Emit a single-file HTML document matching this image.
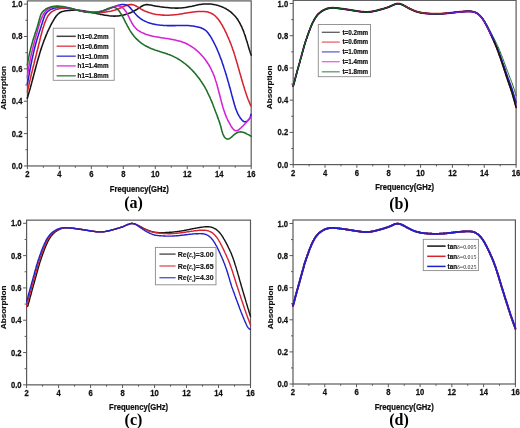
<!DOCTYPE html>
<html><head><meta charset="utf-8"><style>
html,body{margin:0;padding:0;background:#fff;width:520px;height:428px;overflow:hidden}
svg{display:block}
.tl{font-family:'Liberation Sans', Arial, Helvetica, sans-serif;font-weight:bold;font-size:8.6px;fill:#111;stroke:#111;stroke-width:0.25px}
.at{font-family:'Liberation Sans', Arial, Helvetica, sans-serif;font-weight:bold;font-size:8.5px;fill:#111;stroke:#111;stroke-width:0.25px}
.pl{font-family:'Liberation Serif', 'Times New Roman', serif;font-weight:bold;font-size:16px;fill:#000}
.lg{font-family:'Liberation Sans', Arial, Helvetica, sans-serif;font-weight:bold;font-size:6.3px;fill:#111;stroke:#111;stroke-width:0.18px}
.lg2{font-family:'Liberation Sans', Arial, Helvetica, sans-serif;font-weight:bold;font-size:7px;fill:#111;stroke:#111;stroke-width:0.12px}
.ab{font-family:'Liberation Sans', Arial, sans-serif;font-weight:bold;font-size:8.2px;fill:#111;stroke:#111;stroke-width:0.15px}
.lg3{font-family:'Liberation Serif', 'Times New Roman', serif;font-weight:normal;font-size:5.9px;fill:#222;stroke:none}
</style></head><body>
<svg width="520" height="428" viewBox="0 0 520 428">
<rect x="27.40" y="0.90" width="223.80" height="165.05" fill="none" stroke="#5a5a5a" stroke-width="1.2"/>
<line x1="23.90" y1="165.95" x2="27.40" y2="165.95" stroke="#5a5a5a" stroke-width="1"/>
<text transform="translate(22.40,168.95) scale(0.890,1)" class="tl" text-anchor="end">0.0</text>
<line x1="25.40" y1="149.76" x2="27.40" y2="149.76" stroke="#5a5a5a" stroke-width="1"/>
<line x1="23.90" y1="133.58" x2="27.40" y2="133.58" stroke="#5a5a5a" stroke-width="1"/>
<text transform="translate(22.40,136.58) scale(0.890,1)" class="tl" text-anchor="end">0.2</text>
<line x1="25.40" y1="117.39" x2="27.40" y2="117.39" stroke="#5a5a5a" stroke-width="1"/>
<line x1="23.90" y1="101.21" x2="27.40" y2="101.21" stroke="#5a5a5a" stroke-width="1"/>
<text transform="translate(22.40,104.21) scale(0.890,1)" class="tl" text-anchor="end">0.4</text>
<line x1="25.40" y1="85.02" x2="27.40" y2="85.02" stroke="#5a5a5a" stroke-width="1"/>
<line x1="23.90" y1="68.84" x2="27.40" y2="68.84" stroke="#5a5a5a" stroke-width="1"/>
<text transform="translate(22.40,71.84) scale(0.890,1)" class="tl" text-anchor="end">0.6</text>
<line x1="25.40" y1="52.66" x2="27.40" y2="52.66" stroke="#5a5a5a" stroke-width="1"/>
<line x1="23.90" y1="36.47" x2="27.40" y2="36.47" stroke="#5a5a5a" stroke-width="1"/>
<text transform="translate(22.40,39.47) scale(0.890,1)" class="tl" text-anchor="end">0.8</text>
<line x1="25.40" y1="20.28" x2="27.40" y2="20.28" stroke="#5a5a5a" stroke-width="1"/>
<line x1="23.90" y1="4.10" x2="27.40" y2="4.10" stroke="#5a5a5a" stroke-width="1"/>
<text transform="translate(22.40,7.10) scale(0.890,1)" class="tl" text-anchor="end">1.0</text>
<line x1="27.40" y1="165.95" x2="27.40" y2="169.15" stroke="#5a5a5a" stroke-width="1"/>
<text transform="translate(27.40,176.85) scale(0.890,1)" class="tl" text-anchor="middle">2</text>
<line x1="43.39" y1="165.95" x2="43.39" y2="167.75" stroke="#5a5a5a" stroke-width="1"/>
<line x1="59.37" y1="165.95" x2="59.37" y2="169.15" stroke="#5a5a5a" stroke-width="1"/>
<text transform="translate(59.37,176.85) scale(0.890,1)" class="tl" text-anchor="middle">4</text>
<line x1="75.36" y1="165.95" x2="75.36" y2="167.75" stroke="#5a5a5a" stroke-width="1"/>
<line x1="91.34" y1="165.95" x2="91.34" y2="169.15" stroke="#5a5a5a" stroke-width="1"/>
<text transform="translate(91.34,176.85) scale(0.890,1)" class="tl" text-anchor="middle">6</text>
<line x1="107.33" y1="165.95" x2="107.33" y2="167.75" stroke="#5a5a5a" stroke-width="1"/>
<line x1="123.31" y1="165.95" x2="123.31" y2="169.15" stroke="#5a5a5a" stroke-width="1"/>
<text transform="translate(123.31,176.85) scale(0.890,1)" class="tl" text-anchor="middle">8</text>
<line x1="139.30" y1="165.95" x2="139.30" y2="167.75" stroke="#5a5a5a" stroke-width="1"/>
<line x1="155.29" y1="165.95" x2="155.29" y2="169.15" stroke="#5a5a5a" stroke-width="1"/>
<text transform="translate(155.29,176.85) scale(0.890,1)" class="tl" text-anchor="middle">10</text>
<line x1="171.27" y1="165.95" x2="171.27" y2="167.75" stroke="#5a5a5a" stroke-width="1"/>
<line x1="187.26" y1="165.95" x2="187.26" y2="169.15" stroke="#5a5a5a" stroke-width="1"/>
<text transform="translate(187.26,176.85) scale(0.890,1)" class="tl" text-anchor="middle">12</text>
<line x1="203.24" y1="165.95" x2="203.24" y2="167.75" stroke="#5a5a5a" stroke-width="1"/>
<line x1="219.23" y1="165.95" x2="219.23" y2="169.15" stroke="#5a5a5a" stroke-width="1"/>
<text transform="translate(219.23,176.85) scale(0.890,1)" class="tl" text-anchor="middle">14</text>
<line x1="235.21" y1="165.95" x2="235.21" y2="167.75" stroke="#5a5a5a" stroke-width="1"/>
<line x1="251.20" y1="165.95" x2="251.20" y2="169.15" stroke="#5a5a5a" stroke-width="1"/>
<text transform="translate(251.20,176.85) scale(0.890,1)" class="tl" text-anchor="middle">16</text>
<text transform="translate(139.30,191.55) scale(0.900,1)" class="at" text-anchor="middle">Frequency(GHz)</text>
<text transform="translate(6.30,87.90) rotate(-90) scale(1,0.9)" class="ab" text-anchor="middle">Absorption</text>
<text x="133.50" y="207.80" class="pl" text-anchor="middle">(a)</text>
<path d="M27.3,98.2 27.6,97.2 27.9,96.2 28.2,95.1 28.5,94.1 28.8,93.1 29.1,92.1 29.4,91.1 29.7,90.1 30.0,89.1 30.3,88.0 30.5,87.0 30.8,86.0 31.1,85.0 31.4,83.9 31.7,82.9 31.9,81.9 32.2,80.9 32.5,79.8 32.8,78.8 33.0,77.8 33.3,76.7 33.6,75.7 33.8,74.7 34.1,73.6 34.4,72.6 34.7,71.6 34.9,70.6 35.2,69.5 35.5,68.5 35.7,67.5 36.0,66.4 36.3,65.4 36.6,64.4 36.9,63.4 37.1,62.3 37.4,61.3 37.7,60.3 38.0,59.2 38.3,58.2 38.6,57.2 38.9,56.2 39.2,55.2 39.5,54.1 39.8,53.1 40.1,52.1 40.4,51.1 40.7,50.1 41.1,49.1 41.4,48.1 41.7,47.0 42.1,46.0 42.4,45.0 42.8,44.0 43.1,43.0 43.5,42.0 43.8,41.0 44.2,40.0 44.6,39.1 45.0,38.1 45.4,37.1 45.8,36.1 46.2,35.1 46.6,34.1 47.0,33.2 47.4,32.2 47.9,31.2 48.3,30.3 48.8,29.3 49.2,28.3 49.7,27.4 50.2,26.4 50.6,25.5 51.1,24.5 51.6,23.6 52.1,22.7 52.7,21.7 53.2,20.8 53.7,19.9 54.3,18.9 54.8,18.0 55.4,17.2 56.0,16.3 56.7,15.5 57.4,14.7 58.1,14.0 58.9,13.3 59.7,12.7 60.6,12.2 61.5,11.8 62.5,11.4 63.5,11.2 64.6,10.9 65.7,10.8 66.8,10.7 67.9,10.5 69.0,10.5 70.1,10.4 71.2,10.3 72.3,10.3 73.3,10.2 74.4,10.2 75.4,10.2 76.5,10.2 77.5,10.2 78.6,10.3 79.6,10.3 80.7,10.4 81.7,10.5 82.7,10.7 83.8,10.8 84.8,11.0 85.9,11.2 86.9,11.4 88.0,11.6 89.1,11.8 90.1,12.0 91.2,12.2 92.2,12.5 93.3,12.7 94.3,12.9 95.4,13.2 96.4,13.4 97.5,13.7 98.6,13.9 99.6,14.1 100.7,14.4 101.7,14.6 102.8,14.8 103.8,15.0 104.9,15.2 106.0,15.3 107.0,15.5 108.1,15.6 109.1,15.8 110.2,15.9 111.2,16.0 112.3,16.0 113.3,16.1 114.3,16.1 115.4,16.1 116.4,16.0 117.5,16.0 118.5,15.9 119.5,15.7 120.6,15.6 121.6,15.4 122.6,15.2 123.6,15.0 124.6,14.7 125.6,14.4 126.6,14.1 127.6,13.8 128.6,13.4 129.6,13.1 130.6,12.7 131.5,12.2 132.5,11.8 133.5,11.3 134.4,10.8 135.3,10.3 136.3,9.7 137.2,9.2 138.1,8.6 139.0,8.0 139.9,7.4 140.8,6.8 141.7,6.3 142.6,5.8 143.6,5.3 144.5,5.0 145.5,4.8 146.5,4.6 147.5,4.6 148.5,4.7 149.6,4.9 150.7,5.1 151.8,5.3 152.8,5.6 153.9,5.8 155.0,6.0 156.0,6.2 157.1,6.3 158.2,6.5 159.2,6.6 160.3,6.8 161.3,6.9 162.4,7.0 163.4,7.2 164.5,7.3 165.6,7.4 166.6,7.5 167.7,7.6 168.7,7.7 169.8,7.8 170.8,7.9 171.9,7.9 173.0,8.0 174.0,8.0 175.1,8.1 176.1,8.1 177.2,8.1 178.3,8.1 179.3,8.0 180.4,8.0 181.4,7.9 182.5,7.8 183.6,7.7 184.6,7.6 185.7,7.4 186.7,7.2 187.8,7.0 188.9,6.8 189.9,6.6 191.0,6.4 192.0,6.2 193.1,5.9 194.1,5.7 195.2,5.5 196.2,5.2 197.3,5.0 198.4,4.8 199.4,4.6 200.5,4.5 201.5,4.3 202.6,4.2 203.7,4.1 204.7,4.0 205.8,3.9 206.8,3.9 207.9,3.9 209.0,3.9 210.0,4.0 211.1,4.1 212.1,4.2 213.2,4.4 214.2,4.5 215.2,4.8 216.3,5.0 217.3,5.3 218.3,5.5 219.3,5.9 220.3,6.2 221.3,6.6 222.3,7.0 223.2,7.4 224.2,7.9 225.1,8.3 226.0,8.8 226.9,9.4 227.8,9.9 228.7,10.5 229.5,11.1 230.4,11.7 231.2,12.4 232.0,13.1 232.7,13.8 233.5,14.5 234.2,15.3 234.9,16.0 235.6,16.8 236.2,17.6 236.9,18.5 237.5,19.3 238.1,20.2 238.6,21.1 239.2,22.0 239.7,23.0 240.2,23.9 240.7,24.9 241.2,25.8 241.7,26.8 242.1,27.8 242.5,28.8 243.0,29.8 243.4,30.9 243.8,31.9 244.1,32.9 244.5,34.0 244.9,35.0 245.2,36.1 245.6,37.1 245.9,38.2 246.2,39.2 246.5,40.2 246.9,41.3 247.2,42.3 247.5,43.4 247.8,44.4 248.1,45.4 248.4,46.5 248.7,47.5 249.0,48.5 249.3,49.5 249.6,50.4 249.9,51.4 250.2,52.4 250.5,53.3 250.9,54.2 251.2,55.1" fill="none" stroke="#141414" stroke-width="1.55" stroke-linejoin="round" stroke-linecap="round"/>
<path d="M27.4,92.0 27.6,90.9 27.9,89.7 28.1,88.6 28.4,87.4 28.6,86.3 28.9,85.1 29.1,84.0 29.4,82.8 29.6,81.7 29.9,80.5 30.2,79.4 30.4,78.2 30.7,77.1 31.0,75.9 31.3,74.8 31.5,73.6 31.8,72.5 32.1,71.3 32.4,70.2 32.6,69.1 32.9,67.9 33.2,66.8 33.5,65.6 33.8,64.5 34.1,63.4 34.3,62.2 34.6,61.1 34.9,59.9 35.2,58.8 35.5,57.7 35.8,56.5 36.1,55.4 36.4,54.2 36.6,53.1 36.9,52.0 37.2,50.8 37.5,49.7 37.8,48.5 38.1,47.4 38.4,46.3 38.6,45.1 38.9,44.0 39.2,42.8 39.5,41.7 39.8,40.5 40.0,39.4 40.3,38.3 40.6,37.1 40.9,36.0 41.2,34.8 41.5,33.7 41.8,32.5 42.1,31.4 42.4,30.3 42.7,29.1 43.0,28.0 43.4,26.9 43.8,25.7 44.1,24.6 44.5,23.5 45.0,22.4 45.4,21.2 45.9,20.1 46.3,19.0 46.9,17.9 47.4,16.9 48.0,15.8 48.7,14.9 49.4,14.0 50.2,13.1 51.0,12.4 51.9,11.7 52.9,11.1 53.8,10.5 54.9,10.1 55.9,9.6 57.0,9.3 58.1,8.9 59.3,8.7 60.4,8.5 61.6,8.3 62.8,8.3 64.0,8.2 65.2,8.2 66.4,8.3 67.6,8.4 68.7,8.5 69.9,8.7 71.1,8.8 72.3,9.1 73.4,9.3 74.6,9.5 75.7,9.8 76.9,10.1 78.1,10.3 79.2,10.6 80.4,10.8 81.6,11.0 82.7,11.3 83.9,11.5 85.0,11.6 86.2,11.8 87.4,12.0 88.5,12.1 89.7,12.2 90.9,12.3 92.0,12.4 93.2,12.5 94.4,12.6 95.5,12.6 96.7,12.6 97.9,12.6 99.0,12.6 100.2,12.6 101.4,12.5 102.5,12.4 103.7,12.3 104.8,12.2 106.0,12.0 107.1,11.8 108.3,11.6 109.5,11.4 110.6,11.2 111.8,10.9 112.9,10.6 114.0,10.3 115.2,9.9 116.3,9.5 117.5,9.1 118.6,8.7 119.7,8.2 120.9,7.7 122.0,7.2 123.1,6.7 124.2,6.2 125.3,5.8 126.4,5.4 127.5,5.0 128.6,4.8 129.7,4.6 130.8,4.6 131.9,4.6 132.9,4.8 134.0,5.1 135.0,5.5 136.1,6.0 137.1,6.6 138.1,7.2 139.1,7.9 140.1,8.5 141.1,9.1 142.2,9.7 143.2,10.2 144.2,10.7 145.3,11.2 146.3,11.6 147.4,12.0 148.5,12.4 149.6,12.8 150.7,13.1 151.8,13.4 152.9,13.7 154.0,13.9 155.2,14.2 156.4,14.4 157.5,14.6 158.7,14.7 159.9,14.8 161.1,15.0 162.2,15.1 163.4,15.1 164.6,15.2 165.8,15.2 167.0,15.2 168.2,15.2 169.4,15.2 170.6,15.1 171.8,15.0 173.0,14.9 174.2,14.8 175.4,14.7 176.6,14.6 177.7,14.4 178.9,14.3 180.0,14.1 181.2,13.9 182.4,13.7 183.5,13.5 184.7,13.3 185.8,13.1 187.0,12.9 188.1,12.7 189.3,12.5 190.4,12.4 191.6,12.2 192.7,12.0 193.9,11.9 195.0,11.8 196.2,11.7 197.4,11.6 198.6,11.5 199.7,11.4 200.9,11.4 202.1,11.4 203.3,11.4 204.5,11.5 205.7,11.7 206.8,11.8 208.0,12.1 209.1,12.4 210.1,12.8 211.2,13.2 212.1,13.8 213.1,14.3 214.0,15.0 214.9,15.7 215.7,16.5 216.6,17.3 217.3,18.2 218.1,19.1 218.8,20.0 219.5,21.0 220.2,22.0 220.9,23.1 221.5,24.1 222.2,25.2 222.8,26.3 223.3,27.3 223.9,28.4 224.5,29.5 225.0,30.6 225.5,31.7 226.1,32.8 226.6,33.9 227.1,34.9 227.5,36.0 228.0,37.1 228.5,38.1 228.9,39.2 229.4,40.3 229.8,41.4 230.2,42.4 230.7,43.5 231.1,44.6 231.5,45.7 231.9,46.8 232.3,47.8 232.6,48.9 233.0,50.0 233.4,51.1 233.8,52.2 234.1,53.3 234.5,54.4 234.8,55.5 235.2,56.6 235.5,57.8 235.8,58.9 236.2,60.0 236.5,61.1 236.8,62.3 237.2,63.4 237.5,64.5 237.8,65.7 238.1,66.8 238.5,67.9 238.8,69.1 239.1,70.2 239.4,71.4 239.7,72.5 240.1,73.7 240.4,74.8 240.7,75.9 241.0,77.1 241.4,78.2 241.7,79.4 242.0,80.5 242.3,81.6 242.7,82.8 243.0,83.9 243.4,85.1 243.7,86.2 244.1,87.3 244.4,88.4 244.8,89.6 245.1,90.7 245.5,91.8 245.9,92.9 246.2,94.0 246.6,95.2 247.0,96.3 247.4,97.4 247.8,98.5 248.2,99.5 248.7,100.6 249.1,101.7 249.5,102.8 250.0,103.9 250.4,104.9 250.9,106.0" fill="none" stroke="#d8222e" stroke-width="1.55" stroke-linejoin="round" stroke-linecap="round"/>
<path d="M27.3,84.0 27.5,82.8 27.8,81.7 28.0,80.5 28.2,79.4 28.4,78.2 28.6,77.0 28.8,75.9 29.1,74.7 29.3,73.5 29.5,72.4 29.7,71.2 29.9,70.0 30.2,68.8 30.4,67.7 30.6,66.5 30.8,65.3 31.1,64.1 31.3,63.0 31.6,61.8 31.8,60.6 32.0,59.4 32.3,58.3 32.5,57.1 32.8,55.9 33.1,54.7 33.3,53.6 33.6,52.4 33.9,51.2 34.1,50.1 34.4,48.9 34.7,47.8 35.0,46.6 35.3,45.5 35.6,44.3 35.9,43.2 36.2,42.0 36.6,40.9 36.9,39.8 37.2,38.6 37.6,37.5 37.9,36.4 38.3,35.3 38.6,34.1 39.0,33.0 39.3,31.9 39.7,30.8 40.1,29.7 40.4,28.5 40.8,27.4 41.2,26.3 41.5,25.1 41.9,24.0 42.3,22.8 42.7,21.6 43.0,20.5 43.4,19.3 43.8,18.1 44.2,16.9 44.6,15.8 45.2,14.7 45.8,13.8 46.5,12.8 47.2,12.0 48.1,11.2 49.0,10.6 50.0,9.9 51.0,9.4 52.1,8.9 53.2,8.5 54.4,8.1 55.5,7.9 56.7,7.6 57.9,7.5 59.1,7.3 60.3,7.3 61.5,7.3 62.7,7.3 63.9,7.4 65.1,7.5 66.3,7.7 67.4,7.9 68.6,8.1 69.8,8.4 70.9,8.6 72.1,8.9 73.3,9.2 74.4,9.5 75.6,9.8 76.8,10.1 77.9,10.3 79.1,10.6 80.3,10.9 81.4,11.1 82.6,11.3 83.8,11.5 85.0,11.7 86.2,11.9 87.3,12.0 88.5,12.1 89.7,12.2 90.9,12.3 92.0,12.3 93.2,12.3 94.4,12.3 95.5,12.2 96.7,12.1 97.9,12.0 99.0,11.8 100.2,11.6 101.3,11.4 102.4,11.1 103.6,10.8 104.7,10.4 105.8,10.0 106.9,9.6 108.1,9.1 109.2,8.7 110.3,8.2 111.4,7.7 112.6,7.3 113.7,6.8 114.8,6.4 116.0,5.9 117.1,5.6 118.3,5.2 119.5,4.9 120.6,4.7 121.8,4.5 123.0,4.5 124.1,4.5 125.2,4.7 126.3,5.0 127.3,5.4 128.3,6.0 129.1,6.7 130.0,7.6 130.8,8.4 131.6,9.4 132.4,10.3 133.2,11.3 134.0,12.2 134.8,13.2 135.6,14.1 136.4,15.0 137.3,15.9 138.1,16.7 139.0,17.4 140.0,18.2 140.9,18.8 141.9,19.5 142.9,20.1 143.9,20.6 144.9,21.2 146.0,21.6 147.1,22.1 148.1,22.5 149.3,22.9 150.4,23.3 151.5,23.6 152.6,23.9 153.8,24.1 155.0,24.4 156.1,24.6 157.3,24.8 158.5,24.9 159.7,25.1 160.9,25.2 162.1,25.3 163.3,25.4 164.6,25.5 165.8,25.5 167.0,25.6 168.2,25.6 169.4,25.6 170.7,25.6 171.9,25.6 173.1,25.6 174.3,25.6 175.5,25.6 176.7,25.5 177.9,25.5 179.1,25.5 180.2,25.5 181.4,25.5 182.6,25.4 183.8,25.4 184.9,25.5 186.1,25.5 187.3,25.5 188.4,25.6 189.6,25.7 190.7,25.8 191.9,25.9 193.1,26.0 194.2,26.2 195.4,26.4 196.6,26.7 197.7,27.0 198.9,27.3 200.1,27.6 201.3,28.0 202.4,28.5 203.5,29.0 204.5,29.6 205.5,30.3 206.4,31.0 207.2,31.9 207.9,32.8 208.6,33.7 209.3,34.7 210.0,35.7 210.6,36.7 211.2,37.7 211.8,38.7 212.4,39.8 213.0,40.8 213.5,41.9 214.1,42.9 214.6,44.0 215.2,45.1 215.7,46.2 216.2,47.3 216.7,48.4 217.2,49.5 217.6,50.6 218.1,51.7 218.6,52.8 219.0,53.9 219.5,55.0 219.9,56.2 220.3,57.3 220.7,58.4 221.2,59.5 221.6,60.6 222.0,61.8 222.3,62.9 222.7,64.0 223.1,65.1 223.5,66.2 223.8,67.3 224.2,68.5 224.6,69.6 224.9,70.7 225.3,71.8 225.6,72.9 226.0,74.0 226.3,75.2 226.6,76.3 227.0,77.4 227.3,78.5 227.6,79.7 227.9,80.8 228.3,81.9 228.6,83.1 228.9,84.2 229.2,85.3 229.5,86.5 229.8,87.6 230.2,88.8 230.5,89.9 230.8,91.1 231.1,92.3 231.4,93.4 231.7,94.6 232.0,95.8 232.4,97.0 232.7,98.2 233.0,99.4 233.3,100.6 233.7,101.8 234.0,103.0 234.3,104.2 234.7,105.3 235.1,106.5 235.4,107.7 235.8,108.9 236.3,110.0 236.7,111.1 237.2,112.2 237.6,113.3 238.2,114.4 238.7,115.4 239.3,116.4 239.9,117.3 240.5,118.3 241.2,119.1 241.9,120.0 242.7,120.7 243.5,121.4 244.3,121.8 245.2,121.8 246.1,121.6 247.1,121.2 248.0,120.5 248.8,119.6 249.6,118.5 250.2,117.2 250.7,115.9 251.0,114.4" fill="none" stroke="#2020cc" stroke-width="1.55" stroke-linejoin="round" stroke-linecap="round"/>
<path d="M27.3,77.5 27.5,76.3 27.6,75.1 27.7,74.0 27.9,72.8 28.1,71.6 28.2,70.4 28.4,69.3 28.6,68.1 28.8,67.0 29.0,65.8 29.2,64.6 29.4,63.5 29.6,62.3 29.9,61.2 30.1,60.0 30.3,58.9 30.6,57.7 30.8,56.6 31.1,55.4 31.4,54.3 31.6,53.1 31.9,52.0 32.2,50.8 32.5,49.7 32.7,48.5 33.0,47.4 33.3,46.2 33.6,45.1 33.9,44.0 34.2,42.8 34.5,41.7 34.8,40.5 35.1,39.4 35.4,38.3 35.7,37.1 36.0,36.0 36.4,34.8 36.7,33.7 37.0,32.6 37.3,31.4 37.6,30.3 37.9,29.1 38.2,28.0 38.6,26.9 38.9,25.7 39.2,24.6 39.6,23.5 40.0,22.3 40.4,21.2 40.8,20.1 41.2,19.0 41.7,17.9 42.2,16.8 42.7,15.8 43.2,14.7 43.8,13.7 44.5,12.7 45.2,11.8 45.9,10.9 46.8,10.1 47.6,9.4 48.6,8.8 49.6,8.3 50.7,7.9 51.8,7.5 52.9,7.3 54.1,7.1 55.2,6.9 56.5,6.8 57.7,6.8 58.9,6.8 60.1,6.9 61.3,6.9 62.5,7.1 63.7,7.2 64.9,7.4 66.1,7.6 67.3,7.8 68.5,8.0 69.6,8.3 70.8,8.6 72.0,8.8 73.1,9.1 74.3,9.4 75.4,9.7 76.6,10.0 77.7,10.3 78.9,10.5 80.0,10.8 81.1,11.1 82.3,11.3 83.4,11.5 84.6,11.7 85.7,11.9 86.8,12.1 88.0,12.2 89.1,12.3 90.3,12.3 91.4,12.4 92.6,12.4 93.7,12.3 94.9,12.2 96.0,12.1 97.2,12.0 98.3,11.8 99.5,11.6 100.6,11.4 101.8,11.1 102.9,10.8 104.1,10.5 105.2,10.1 106.4,9.7 107.5,9.3 108.7,8.9 109.8,8.4 111.0,7.9 112.1,7.4 113.3,7.0 114.4,6.6 115.5,6.2 116.6,6.0 117.7,6.0 118.8,6.0 119.9,6.3 120.9,6.8 121.9,7.3 122.8,8.0 123.6,8.7 124.4,9.6 125.1,10.5 125.8,11.4 126.5,12.4 127.1,13.4 127.6,14.5 128.2,15.6 128.7,16.7 129.3,17.8 129.8,18.9 130.3,20.1 130.9,21.1 131.5,22.2 132.0,23.3 132.7,24.3 133.3,25.3 134.0,26.2 134.7,27.1 135.5,28.0 136.3,28.8 137.1,29.6 138.0,30.3 139.0,30.9 140.0,31.5 141.0,32.1 142.1,32.6 143.1,33.1 144.2,33.5 145.3,34.0 146.4,34.4 147.5,34.7 148.6,35.1 149.7,35.4 150.9,35.7 152.0,36.0 153.2,36.2 154.3,36.5 155.5,36.7 156.7,36.9 157.9,37.1 159.0,37.3 160.2,37.5 161.4,37.7 162.6,37.9 163.8,38.1 165.0,38.3 166.1,38.4 167.3,38.6 168.5,38.8 169.7,39.0 170.9,39.2 172.0,39.4 173.2,39.6 174.4,39.9 175.5,40.1 176.7,40.4 177.8,40.7 178.9,41.0 180.1,41.3 181.2,41.6 182.3,42.0 183.4,42.4 184.4,42.8 185.5,43.3 186.6,43.8 187.6,44.3 188.6,44.8 189.6,45.4 190.6,46.0 191.6,46.6 192.6,47.3 193.5,47.9 194.5,48.6 195.4,49.3 196.3,50.1 197.2,50.9 198.1,51.6 199.0,52.4 199.8,53.3 200.6,54.1 201.4,55.0 202.2,55.9 203.0,56.8 203.8,57.7 204.5,58.6 205.2,59.5 205.9,60.5 206.6,61.5 207.3,62.5 207.9,63.5 208.6,64.5 209.2,65.5 209.8,66.5 210.3,67.6 210.9,68.6 211.4,69.7 211.9,70.8 212.4,71.8 212.9,72.9 213.3,74.0 213.8,75.1 214.2,76.2 214.6,77.3 215.0,78.4 215.3,79.5 215.7,80.7 216.1,81.8 216.4,82.9 216.8,84.0 217.1,85.2 217.4,86.3 217.7,87.5 218.0,88.6 218.3,89.8 218.6,90.9 218.9,92.0 219.2,93.2 219.5,94.3 219.8,95.5 220.1,96.6 220.4,97.8 220.7,98.9 221.0,100.1 221.3,101.2 221.6,102.4 221.9,103.5 222.2,104.7 222.5,105.8 222.8,106.9 223.2,108.0 223.5,109.2 223.9,110.3 224.3,111.4 224.7,112.5 225.0,113.6 225.5,114.7 225.9,115.8 226.3,116.9 226.8,118.0 227.3,119.0 227.8,120.1 228.3,121.1 228.8,122.2 229.4,123.2 230.0,124.2 230.6,125.3 231.2,126.3 231.8,127.3 232.5,128.2 233.2,129.1 234.0,129.9 234.8,130.5 235.7,130.8 236.6,130.8 237.6,130.5 238.6,129.8 239.7,129.0 240.7,128.1 241.6,127.2 242.6,126.3 243.4,125.4 244.3,124.6 245.1,123.7 245.9,122.8 246.7,121.9 247.4,121.0 248.2,120.1 248.9,119.2 249.7,118.4 250.4,117.5 251.2,116.7" fill="none" stroke="#d622d6" stroke-width="1.55" stroke-linejoin="round" stroke-linecap="round"/>
<path d="M27.3,65.0 27.5,63.9 27.7,62.8 27.9,61.7 28.1,60.6 28.3,59.5 28.5,58.3 28.7,57.2 29.0,56.1 29.2,55.0 29.5,53.8 29.7,52.7 30.0,51.6 30.3,50.5 30.5,49.4 30.8,48.2 31.1,47.1 31.4,46.0 31.7,44.9 32.0,43.8 32.3,42.7 32.6,41.6 32.9,40.5 33.2,39.4 33.6,38.4 33.9,37.3 34.2,36.3 34.6,35.2 34.9,34.1 35.3,33.1 35.6,32.0 36.0,31.0 36.3,29.9 36.6,28.8 37.0,27.8 37.3,26.7 37.7,25.6 38.0,24.5 38.3,23.4 38.6,22.2 38.9,21.1 39.2,19.9 39.5,18.7 39.9,17.5 40.2,16.4 40.6,15.3 41.1,14.2 41.6,13.2 42.3,12.3 43.0,11.5 43.7,10.7 44.6,10.0 45.5,9.3 46.4,8.8 47.4,8.2 48.4,7.8 49.4,7.4 50.5,7.0 51.6,6.7 52.7,6.5 53.8,6.3 55.0,6.2 56.1,6.1 57.2,6.1 58.3,6.1 59.4,6.2 60.6,6.3 61.7,6.4 62.8,6.5 64.0,6.7 65.1,7.0 66.2,7.2 67.4,7.4 68.5,7.7 69.6,8.0 70.7,8.3 71.9,8.6 73.0,8.9 74.1,9.3 75.3,9.6 76.4,9.9 77.5,10.2 78.6,10.5 79.7,10.8 80.8,11.0 82.0,11.3 83.1,11.5 84.2,11.8 85.3,12.0 86.4,12.1 87.5,12.3 88.6,12.4 89.7,12.5 90.8,12.5 91.9,12.6 93.0,12.6 94.1,12.5 95.2,12.4 96.3,12.3 97.4,12.2 98.6,12.0 99.7,11.7 100.8,11.4 101.9,11.1 103.1,10.7 104.2,10.2 105.3,9.7 106.5,9.3 107.6,8.8 108.7,8.3 109.8,8.0 110.8,7.6 111.9,7.4 112.9,7.3 113.9,7.3 114.8,7.5 115.7,7.9 116.6,8.4 117.4,9.1 118.1,9.9 118.9,10.8 119.6,11.7 120.2,12.7 120.9,13.7 121.5,14.7 122.1,15.7 122.6,16.7 123.2,17.7 123.7,18.7 124.2,19.7 124.8,20.8 125.3,21.8 125.8,22.8 126.4,23.8 126.9,24.9 127.4,25.9 128.0,26.9 128.5,27.9 129.1,28.9 129.6,29.9 130.2,30.9 130.8,31.8 131.5,32.8 132.1,33.7 132.8,34.6 133.5,35.5 134.2,36.4 134.9,37.2 135.7,38.1 136.5,38.9 137.3,39.7 138.1,40.4 138.9,41.2 139.8,41.9 140.7,42.6 141.6,43.3 142.5,43.9 143.4,44.6 144.4,45.2 145.4,45.8 146.4,46.3 147.4,46.8 148.4,47.3 149.4,47.8 150.5,48.3 151.5,48.7 152.6,49.1 153.7,49.5 154.7,49.9 155.8,50.3 156.9,50.6 158.0,51.0 159.1,51.3 160.3,51.7 161.4,52.0 162.5,52.4 163.6,52.7 164.7,53.1 165.8,53.4 166.9,53.8 167.9,54.2 169.0,54.6 170.1,55.0 171.1,55.4 172.2,55.9 173.2,56.4 174.2,56.9 175.2,57.4 176.2,57.9 177.2,58.4 178.2,59.0 179.2,59.6 180.1,60.2 181.1,60.8 182.0,61.5 182.9,62.1 183.8,62.8 184.7,63.5 185.6,64.2 186.4,64.9 187.3,65.6 188.2,66.3 189.0,67.1 189.8,67.9 190.6,68.7 191.4,69.5 192.2,70.3 193.0,71.1 193.8,71.9 194.5,72.8 195.3,73.6 196.0,74.5 196.7,75.4 197.4,76.3 198.1,77.2 198.8,78.1 199.5,79.0 200.2,79.9 200.8,80.9 201.5,81.8 202.1,82.8 202.7,83.8 203.3,84.7 203.9,85.7 204.5,86.7 205.1,87.7 205.6,88.7 206.2,89.7 206.7,90.7 207.2,91.7 207.7,92.8 208.2,93.8 208.7,94.8 209.2,95.9 209.7,96.9 210.2,98.0 210.6,99.0 211.1,100.1 211.5,101.1 211.9,102.2 212.4,103.2 212.8,104.3 213.2,105.3 213.6,106.4 214.0,107.5 214.4,108.5 214.8,109.6 215.2,110.6 215.6,111.7 216.0,112.7 216.4,113.8 216.8,114.8 217.2,115.8 217.5,116.9 217.9,117.9 218.3,118.9 218.7,120.0 219.1,121.0 219.4,122.1 219.8,123.1 220.1,124.2 220.5,125.4 220.8,126.5 221.1,127.7 221.4,128.9 221.7,130.2 222.1,131.4 222.4,132.6 222.8,133.8 223.3,134.9 223.8,136.0 224.4,136.9 225.1,137.7 225.8,138.4 226.6,138.8 227.4,139.1 228.3,139.0 229.1,138.7 230.0,138.2 230.9,137.6 231.8,136.8 232.7,136.0 233.6,135.2 234.6,134.4 235.5,133.6 236.5,133.0 237.5,132.5 238.5,132.1 239.6,131.9 240.6,131.8 241.7,131.9 242.8,132.2 243.9,132.5 245.0,133.0 246.1,133.5 247.2,134.1 248.3,134.6 249.3,135.2 250.3,135.8 251.2,136.2" fill="none" stroke="#1d6e26" stroke-width="1.55" stroke-linejoin="round" stroke-linecap="round"/>
<rect x="53.2" y="28.2" width="61" height="52.1" fill="#fff" stroke="#8a8a8a" stroke-width="0.9"/>
<line x1="56.6" y1="36.30" x2="75.8" y2="36.30" stroke="#141414" stroke-width="1.5" stroke-opacity="0.8"/>
<text x="77.6" y="38.60" class="lg">h1=0.2mm</text>
<line x1="56.6" y1="46.20" x2="75.8" y2="46.20" stroke="#d8222e" stroke-width="1.5" stroke-opacity="0.8"/>
<text x="77.6" y="48.50" class="lg">h1=0.6mm</text>
<line x1="56.6" y1="56.20" x2="75.8" y2="56.20" stroke="#2020cc" stroke-width="1.5" stroke-opacity="0.8"/>
<text x="77.6" y="58.50" class="lg">h1=1.0mm</text>
<line x1="56.6" y1="65.90" x2="75.8" y2="65.90" stroke="#d622d6" stroke-width="1.5" stroke-opacity="0.8"/>
<text x="77.6" y="68.20" class="lg">h1=1.4mm</text>
<line x1="56.6" y1="75.80" x2="75.8" y2="75.80" stroke="#1d6e26" stroke-width="1.5" stroke-opacity="0.8"/>
<text x="77.6" y="78.10" class="lg">h1=1.8mm</text>
<rect x="293.20" y="0.35" width="222.90" height="164.25" fill="none" stroke="#5a5a5a" stroke-width="1.2"/>
<line x1="289.70" y1="164.60" x2="293.20" y2="164.60" stroke="#5a5a5a" stroke-width="1"/>
<text transform="translate(288.20,167.60) scale(0.890,1)" class="tl" text-anchor="end">0.0</text>
<line x1="291.20" y1="148.49" x2="293.20" y2="148.49" stroke="#5a5a5a" stroke-width="1"/>
<line x1="289.70" y1="132.38" x2="293.20" y2="132.38" stroke="#5a5a5a" stroke-width="1"/>
<text transform="translate(288.20,135.38) scale(0.890,1)" class="tl" text-anchor="end">0.2</text>
<line x1="291.20" y1="116.27" x2="293.20" y2="116.27" stroke="#5a5a5a" stroke-width="1"/>
<line x1="289.70" y1="100.16" x2="293.20" y2="100.16" stroke="#5a5a5a" stroke-width="1"/>
<text transform="translate(288.20,103.16) scale(0.890,1)" class="tl" text-anchor="end">0.4</text>
<line x1="291.20" y1="84.05" x2="293.20" y2="84.05" stroke="#5a5a5a" stroke-width="1"/>
<line x1="289.70" y1="67.94" x2="293.20" y2="67.94" stroke="#5a5a5a" stroke-width="1"/>
<text transform="translate(288.20,70.94) scale(0.890,1)" class="tl" text-anchor="end">0.6</text>
<line x1="291.20" y1="51.83" x2="293.20" y2="51.83" stroke="#5a5a5a" stroke-width="1"/>
<line x1="289.70" y1="35.72" x2="293.20" y2="35.72" stroke="#5a5a5a" stroke-width="1"/>
<text transform="translate(288.20,38.72) scale(0.890,1)" class="tl" text-anchor="end">0.8</text>
<line x1="291.20" y1="19.61" x2="293.20" y2="19.61" stroke="#5a5a5a" stroke-width="1"/>
<line x1="289.70" y1="3.50" x2="293.20" y2="3.50" stroke="#5a5a5a" stroke-width="1"/>
<text transform="translate(288.20,6.50) scale(0.890,1)" class="tl" text-anchor="end">1.0</text>
<line x1="293.20" y1="164.60" x2="293.20" y2="167.80" stroke="#5a5a5a" stroke-width="1"/>
<text transform="translate(293.20,175.50) scale(0.890,1)" class="tl" text-anchor="middle">2</text>
<line x1="309.12" y1="164.60" x2="309.12" y2="166.40" stroke="#5a5a5a" stroke-width="1"/>
<line x1="325.04" y1="164.60" x2="325.04" y2="167.80" stroke="#5a5a5a" stroke-width="1"/>
<text transform="translate(325.04,175.50) scale(0.890,1)" class="tl" text-anchor="middle">4</text>
<line x1="340.96" y1="164.60" x2="340.96" y2="166.40" stroke="#5a5a5a" stroke-width="1"/>
<line x1="356.89" y1="164.60" x2="356.89" y2="167.80" stroke="#5a5a5a" stroke-width="1"/>
<text transform="translate(356.89,175.50) scale(0.890,1)" class="tl" text-anchor="middle">6</text>
<line x1="372.81" y1="164.60" x2="372.81" y2="166.40" stroke="#5a5a5a" stroke-width="1"/>
<line x1="388.73" y1="164.60" x2="388.73" y2="167.80" stroke="#5a5a5a" stroke-width="1"/>
<text transform="translate(388.73,175.50) scale(0.890,1)" class="tl" text-anchor="middle">8</text>
<line x1="404.65" y1="164.60" x2="404.65" y2="166.40" stroke="#5a5a5a" stroke-width="1"/>
<line x1="420.57" y1="164.60" x2="420.57" y2="167.80" stroke="#5a5a5a" stroke-width="1"/>
<text transform="translate(420.57,175.50) scale(0.890,1)" class="tl" text-anchor="middle">10</text>
<line x1="436.49" y1="164.60" x2="436.49" y2="166.40" stroke="#5a5a5a" stroke-width="1"/>
<line x1="452.41" y1="164.60" x2="452.41" y2="167.80" stroke="#5a5a5a" stroke-width="1"/>
<text transform="translate(452.41,175.50) scale(0.890,1)" class="tl" text-anchor="middle">12</text>
<line x1="468.34" y1="164.60" x2="468.34" y2="166.40" stroke="#5a5a5a" stroke-width="1"/>
<line x1="484.26" y1="164.60" x2="484.26" y2="167.80" stroke="#5a5a5a" stroke-width="1"/>
<text transform="translate(484.26,175.50) scale(0.890,1)" class="tl" text-anchor="middle">14</text>
<line x1="500.18" y1="164.60" x2="500.18" y2="166.40" stroke="#5a5a5a" stroke-width="1"/>
<line x1="516.10" y1="164.60" x2="516.10" y2="167.80" stroke="#5a5a5a" stroke-width="1"/>
<text transform="translate(516.10,175.50) scale(0.890,1)" class="tl" text-anchor="middle">16</text>
<text transform="translate(404.65,190.20) scale(0.900,1)" class="at" text-anchor="middle">Frequency(GHz)</text>
<text transform="translate(272.40,87.30) rotate(-90) scale(1,0.9)" class="ab" text-anchor="middle">Absorption</text>
<text x="399.00" y="208.50" class="pl" text-anchor="middle">(b)</text>
<path d="M293.2,85.8 293.7,83.8 294.3,81.8 294.8,79.9 295.3,77.9 295.9,75.9 296.4,74.0 296.9,72.0 297.4,70.1 298.0,68.1 298.5,66.2 299.0,64.3 299.6,62.4 300.1,60.5 300.6,58.6 301.2,56.7 301.7,54.7 302.2,52.8 302.8,50.8 303.3,48.9 303.8,47.0 304.3,45.2 304.9,43.4 305.4,41.7 305.9,40.0 306.5,38.4 307.0,36.9 307.5,35.4 308.1,33.9 308.6,32.4 309.1,31.0 309.7,29.6 310.2,28.2 310.7,26.9 311.2,25.6 311.8,24.4 312.3,23.2 312.8,22.1 313.4,21.0 313.9,20.0 314.4,19.0 315.0,18.1 315.5,17.3 316.0,16.5 316.6,15.8 317.1,15.1 317.6,14.5 318.1,13.9 318.7,13.4 319.2,12.9 319.7,12.4 320.3,12.0 320.8,11.6 321.3,11.2 321.9,10.9 322.4,10.5 322.9,10.2 323.5,9.9 324.0,9.6 324.5,9.4 325.0,9.1 325.6,8.9 326.1,8.7 326.6,8.5 327.2,8.3 327.7,8.2 328.2,8.1 328.8,8.0 329.3,7.9 329.8,7.8 330.4,7.7 330.9,7.7 331.4,7.7 331.9,7.6 332.5,7.6 333.0,7.6 333.5,7.6 334.1,7.7 334.6,7.7 335.1,7.7 335.7,7.8 336.2,7.8 336.7,7.8 337.2,7.9 337.8,7.9 338.3,8.0 338.8,8.1 339.4,8.1 339.9,8.2 340.4,8.3 341.0,8.3 341.5,8.4 342.0,8.5 342.6,8.5 343.1,8.6 343.6,8.7 344.1,8.8 344.7,8.8 345.2,8.9 345.7,9.0 346.3,9.1 346.8,9.2 347.3,9.2 347.9,9.3 348.4,9.4 348.9,9.5 349.5,9.6 350.0,9.7 350.5,9.7 351.0,9.8 351.6,9.9 352.1,10.0 352.6,10.1 353.2,10.2 353.7,10.2 354.2,10.3 354.8,10.4 355.3,10.5 355.8,10.6 356.4,10.7 356.9,10.7 357.4,10.8 357.9,10.9 358.5,11.0 359.0,11.1 359.5,11.2 360.1,11.2 360.6,11.3 361.1,11.4 361.7,11.4 362.2,11.5 362.7,11.6 363.3,11.6 363.8,11.6 364.3,11.7 364.8,11.7 365.4,11.7 365.9,11.7 366.4,11.8 367.0,11.7 367.5,11.7 368.0,11.7 368.6,11.7 369.1,11.6 369.6,11.6 370.2,11.5 370.7,11.5 371.2,11.4 371.7,11.3 372.3,11.2 372.8,11.1 373.3,11.0 373.9,10.9 374.4,10.8 374.9,10.7 375.5,10.5 376.0,10.4 376.5,10.3 377.1,10.1 377.6,10.0 378.1,9.9 378.6,9.7 379.2,9.6 379.7,9.4 380.2,9.3 380.8,9.2 381.3,9.0 381.8,8.9 382.4,8.7 382.9,8.6 383.4,8.4 384.0,8.3 384.5,8.1 385.0,7.9 385.5,7.8 386.1,7.6 386.6,7.4 387.1,7.2 387.7,7.0 388.2,6.8 388.7,6.6 389.3,6.4 389.8,6.2 390.3,6.0 390.9,5.8 391.4,5.5 391.9,5.3 392.4,5.1 393.0,4.8 393.5,4.6 394.0,4.3 394.6,4.1 395.1,3.9 395.6,3.8 396.2,3.6 396.7,3.5 397.2,3.4 397.8,3.3 398.3,3.3 398.8,3.4 399.3,3.5 399.9,3.6 400.4,3.7 400.9,3.9 401.5,4.1 402.0,4.3 402.5,4.5 403.1,4.8 403.6,5.1 404.1,5.3 404.6,5.6 405.2,5.9 405.7,6.2 406.2,6.5 406.8,6.8 407.3,7.1 407.8,7.4 408.4,7.6 408.9,7.9 409.4,8.2 410.0,8.5 410.5,8.7 411.0,9.0 411.5,9.3 412.1,9.5 412.6,9.7 413.1,10.0 413.7,10.2 414.2,10.4 414.7,10.6 415.3,10.8 415.8,11.0 416.3,11.2 416.9,11.4 417.4,11.5 417.9,11.7 418.4,11.8 419.0,12.0 419.5,12.1 420.0,12.2 420.6,12.3 421.1,12.4 421.6,12.5 422.2,12.6 422.7,12.7 423.2,12.8 423.8,12.8 424.3,12.9 424.8,13.0 425.3,13.0 425.9,13.1 426.4,13.1 426.9,13.2 427.5,13.2 428.0,13.2 428.5,13.3 429.1,13.3 429.6,13.3 430.1,13.4 430.7,13.4 431.2,13.4 431.7,13.4 432.2,13.5 432.8,13.5 433.3,13.5 433.8,13.5 434.4,13.5 434.9,13.5 435.4,13.5 436.0,13.5 436.5,13.5 437.0,13.5 437.6,13.5 438.1,13.5 438.6,13.5 439.1,13.5 439.7,13.5 440.2,13.5 440.7,13.4 441.3,13.4 441.8,13.4 442.3,13.4 442.9,13.3 443.4,13.3 443.9,13.3 444.5,13.2 445.0,13.2 445.5,13.1 446.0,13.1 446.6,13.0 447.1,13.0 447.6,12.9 448.2,12.9 448.7,12.8 449.2,12.8 449.8,12.7 450.3,12.6 450.8,12.6 451.4,12.5 451.9,12.5 452.4,12.4 452.9,12.3 453.5,12.3 454.0,12.2 454.5,12.1 455.1,12.1 455.6,12.0 456.1,12.0 456.7,11.9 457.2,11.8 457.7,11.8 458.3,11.7 458.8,11.7 459.3,11.6 459.8,11.6 460.4,11.5 460.9,11.5 461.4,11.4 462.0,11.4 462.5,11.3 463.0,11.3 463.6,11.3 464.1,11.2 464.6,11.2 465.2,11.2 465.7,11.1 466.2,11.1 466.7,11.1 467.3,11.1 467.8,11.1 468.3,11.1 468.9,11.1 469.4,11.1 469.9,11.1 470.5,11.1 471.0,11.2 471.5,11.2 472.1,11.3 472.6,11.4 473.1,11.5 473.6,11.6 474.2,11.7 474.7,11.9 475.2,12.1 475.8,12.3 476.3,12.6 476.8,12.9 477.4,13.2 477.9,13.6 478.4,14.0 479.0,14.5 479.5,15.0 480.0,15.5 480.5,16.1 481.1,16.7 481.6,17.3 482.1,18.0 482.7,18.8 483.2,19.6 483.7,20.4 484.3,21.3 484.8,22.2 485.3,23.2 485.8,24.1 486.4,25.2 486.9,26.2 487.4,27.3 488.0,28.3 488.5,29.4 489.0,30.5 489.6,31.6 490.1,32.7 490.6,33.9 491.2,35.0 491.7,36.1 492.2,37.2 492.7,38.4 493.3,39.6 493.8,40.8 494.3,42.1 494.9,43.3 495.4,44.6 495.9,45.9 496.5,47.2 497.0,48.6 497.5,49.9 498.1,51.3 498.6,52.8 499.1,54.2 499.6,55.7 500.2,57.2 500.7,58.7 501.2,60.3 501.8,61.9 502.3,63.4 502.8,65.0 503.4,66.7 503.9,68.3 504.4,69.9 505.0,71.5 505.5,73.1 506.0,74.7 506.5,76.3 507.1,77.8 507.6,79.4 508.1,81.0 508.7,82.5 509.2,84.0 509.7,85.6 510.3,87.1 510.8,88.7 511.3,90.3 511.9,91.9 512.4,93.6 512.9,95.4 513.4,97.2 514.0,99.1 514.5,101.0 515.0,103.0 515.6,105.0 516.1,106.9" fill="none" stroke="#d8222e" stroke-width="1.50" stroke-linejoin="round" stroke-linecap="round"/>
<path d="M293.2,86.5 293.7,84.5 294.3,82.5 294.8,80.5 295.3,78.5 295.9,76.6 296.4,74.6 296.9,72.6 297.4,70.7 298.0,68.8 298.5,66.9 299.0,65.0 299.6,63.1 300.1,61.2 300.6,59.2 301.2,57.3 301.7,55.4 302.2,53.4 302.8,51.5 303.3,49.5 303.8,47.7 304.3,45.8 304.9,44.0 305.4,42.3 305.9,40.7 306.5,39.1 307.0,37.5 307.5,36.0 308.1,34.5 308.6,33.1 309.1,31.6 309.7,30.2 310.2,28.9 310.7,27.5 311.2,26.2 311.8,25.0 312.3,23.8 312.8,22.7 313.4,21.6 313.9,20.6 314.4,19.7 315.0,18.8 315.5,18.0 316.0,17.2 316.6,16.5 317.1,15.8 317.6,15.1 318.1,14.6 318.7,14.0 319.2,13.5 319.7,13.1 320.3,12.6 320.8,12.2 321.3,11.9 321.9,11.5 322.4,11.2 322.9,10.8 323.5,10.5 324.0,10.3 324.5,10.0 325.0,9.8 325.6,9.5 326.1,9.3 326.6,9.1 327.2,9.0 327.7,8.8 328.2,8.7 328.8,8.6 329.3,8.5 329.8,8.4 330.4,8.4 330.9,8.3 331.4,8.3 331.9,8.3 332.5,8.3 333.0,8.3 333.5,8.3 334.1,8.3 334.6,8.3 335.1,8.4 335.7,8.4 336.2,8.4 336.7,8.5 337.2,8.5 337.8,8.6 338.3,8.7 338.8,8.7 339.4,8.8 339.9,8.8 340.4,8.9 341.0,9.0 341.5,9.0 342.0,9.1 342.6,9.2 343.1,9.3 343.6,9.3 344.1,9.4 344.7,9.5 345.2,9.6 345.7,9.6 346.3,9.7 346.8,9.8 347.3,9.9 347.9,10.0 348.4,10.0 348.9,10.1 349.5,10.2 350.0,10.3 350.5,10.4 351.0,10.5 351.6,10.5 352.1,10.6 352.6,10.7 353.2,10.8 353.7,10.9 354.2,11.0 354.8,11.1 355.3,11.1 355.8,11.2 356.4,11.3 356.9,11.4 357.4,11.5 357.9,11.6 358.5,11.6 359.0,11.7 359.5,11.8 360.1,11.9 360.6,11.9 361.1,12.0 361.7,12.1 362.2,12.1 362.7,12.2 363.3,12.2 363.8,12.3 364.3,12.3 364.8,12.4 365.4,12.4 365.9,12.4 366.4,12.4 367.0,12.4 367.5,12.4 368.0,12.4 368.6,12.3 369.1,12.3 369.6,12.2 370.2,12.2 370.7,12.1 371.2,12.0 371.7,11.9 372.3,11.9 372.8,11.8 373.3,11.7 373.9,11.5 374.4,11.4 374.9,11.3 375.5,11.2 376.0,11.1 376.5,10.9 377.1,10.8 377.6,10.7 378.1,10.5 378.6,10.4 379.2,10.2 379.7,10.1 380.2,9.9 380.8,9.8 381.3,9.7 381.8,9.5 382.4,9.4 382.9,9.2 383.4,9.1 384.0,8.9 384.5,8.7 385.0,8.6 385.5,8.4 386.1,8.2 386.6,8.1 387.1,7.9 387.7,7.7 388.2,7.5 388.7,7.3 389.3,7.1 389.8,6.9 390.3,6.7 390.9,6.4 391.4,6.2 391.9,5.9 392.4,5.7 393.0,5.5 393.5,5.2 394.0,5.0 394.6,4.8 395.1,4.6 395.6,4.4 396.2,4.2 396.7,4.1 397.2,4.0 397.8,4.0 398.3,4.0 398.8,4.0 399.3,4.1 399.9,4.2 400.4,4.4 400.9,4.5 401.5,4.7 402.0,4.9 402.5,5.2 403.1,5.4 403.6,5.7 404.1,6.0 404.6,6.2 405.2,6.5 405.7,6.8 406.2,7.1 406.8,7.4 407.3,7.7 407.8,8.0 408.4,8.3 408.9,8.6 409.4,8.8 410.0,9.1 410.5,9.4 411.0,9.7 411.5,9.9 412.1,10.2 412.6,10.4 413.1,10.6 413.7,10.8 414.2,11.1 414.7,11.3 415.3,11.5 415.8,11.7 416.3,11.8 416.9,12.0 417.4,12.2 417.9,12.3 418.4,12.5 419.0,12.6 419.5,12.7 420.0,12.8 420.6,13.0 421.1,13.1 421.6,13.2 422.2,13.2 422.7,13.3 423.2,13.4 423.8,13.5 424.3,13.5 424.8,13.6 425.3,13.7 425.9,13.7 426.4,13.8 426.9,13.8 427.5,13.9 428.0,13.9 428.5,13.9 429.1,14.0 429.6,14.0 430.1,14.0 430.7,14.0 431.2,14.1 431.7,14.1 432.2,14.1 432.8,14.1 433.3,14.1 433.8,14.1 434.4,14.2 434.9,14.2 435.4,14.2 436.0,14.2 436.5,14.2 437.0,14.2 437.6,14.2 438.1,14.2 438.6,14.2 439.1,14.1 439.7,14.1 440.2,14.1 440.7,14.1 441.3,14.1 441.8,14.0 442.3,14.0 442.9,14.0 443.4,13.9 443.9,13.9 444.5,13.9 445.0,13.8 445.5,13.8 446.0,13.7 446.6,13.7 447.1,13.6 447.6,13.6 448.2,13.5 448.7,13.5 449.2,13.4 449.8,13.3 450.3,13.3 450.8,13.2 451.4,13.2 451.9,13.1 452.4,13.0 452.9,13.0 453.5,12.9 454.0,12.8 454.5,12.8 455.1,12.7 455.6,12.7 456.1,12.6 456.7,12.5 457.2,12.5 457.7,12.4 458.3,12.4 458.8,12.3 459.3,12.3 459.8,12.2 460.4,12.2 460.9,12.1 461.4,12.1 462.0,12.0 462.5,12.0 463.0,11.9 463.6,11.9 464.1,11.9 464.6,11.8 465.2,11.8 465.7,11.8 466.2,11.8 466.7,11.7 467.3,11.7 467.8,11.7 468.3,11.7 468.9,11.7 469.4,11.7 469.9,11.7 470.5,11.8 471.0,11.8 471.5,11.8 472.1,11.9 472.6,12.0 473.1,12.1 473.6,12.2 474.2,12.4 474.7,12.5 475.2,12.7 475.8,13.0 476.3,13.2 476.8,13.5 477.4,13.8 477.9,14.2 478.4,14.6 479.0,15.0 479.5,15.5 480.0,16.0 480.5,16.6 481.1,17.2 481.6,17.9 482.1,18.6 482.7,19.3 483.2,20.1 483.7,21.0 484.3,21.9 484.8,22.8 485.3,23.8 485.8,24.8 486.4,25.8 486.9,26.8 487.4,27.9 488.0,29.0 488.5,30.1 489.0,31.2 489.6,32.3 490.1,33.4 490.6,34.5 491.2,35.6 491.7,36.7 492.2,37.9 492.7,39.0 493.3,40.1 493.8,41.3 494.3,42.4 494.9,43.6 495.4,44.8 495.9,46.0 496.5,47.3 497.0,48.6 497.5,49.9 498.1,51.2 498.6,52.5 499.1,53.9 499.6,55.3 500.2,56.8 500.7,58.2 501.2,59.7 501.8,61.2 502.3,62.7 502.8,64.2 503.4,65.8 503.9,67.3 504.4,68.8 505.0,70.3 505.5,71.8 506.0,73.3 506.5,74.8 507.1,76.3 507.6,77.8 508.1,79.3 508.7,80.7 509.2,82.1 509.7,83.6 510.3,85.1 510.8,86.5 511.3,88.1 511.9,89.7 512.4,91.3 512.9,93.1 513.4,94.9 514.0,96.7 514.5,98.5 515.0,100.4 515.6,102.3 516.1,104.1" fill="none" stroke="#d622d6" stroke-width="1.40" stroke-linejoin="round" stroke-linecap="round"/>
<path d="M293.2,86.1 293.7,84.2 294.3,82.2 294.8,80.2 295.3,78.2 295.9,76.2 296.4,74.3 296.9,72.3 297.4,70.4 298.0,68.5 298.5,66.6 299.0,64.6 299.6,62.7 300.1,60.8 300.6,58.9 301.2,57.0 301.7,55.0 302.2,53.1 302.8,51.1 303.3,49.2 303.8,47.3 304.3,45.5 304.9,43.7 305.4,42.0 305.9,40.3 306.5,38.7 307.0,37.2 307.5,35.7 308.1,34.2 308.6,32.7 309.1,31.3 309.7,29.9 310.2,28.6 310.7,27.2 311.2,25.9 311.8,24.7 312.3,23.5 312.8,22.4 313.4,21.3 313.9,20.3 314.4,19.4 315.0,18.5 315.5,17.6 316.0,16.9 316.6,16.1 317.1,15.5 317.6,14.8 318.1,14.2 318.7,13.7 319.2,13.2 319.7,12.7 320.3,12.3 320.8,11.9 321.3,11.5 321.9,11.2 322.4,10.8 322.9,10.5 323.5,10.2 324.0,9.9 324.5,9.7 325.0,9.4 325.6,9.2 326.1,9.0 326.6,8.8 327.2,8.7 327.7,8.5 328.2,8.4 328.8,8.3 329.3,8.2 329.8,8.1 330.4,8.1 330.9,8.0 331.4,8.0 331.9,8.0 332.5,8.0 333.0,8.0 333.5,8.0 334.1,8.0 334.6,8.0 335.1,8.0 335.7,8.1 336.2,8.1 336.7,8.2 337.2,8.2 337.8,8.3 338.3,8.3 338.8,8.4 339.4,8.5 339.9,8.5 340.4,8.6 341.0,8.7 341.5,8.7 342.0,8.8 342.6,8.9 343.1,8.9 343.6,9.0 344.1,9.1 344.7,9.2 345.2,9.2 345.7,9.3 346.3,9.4 346.8,9.5 347.3,9.6 347.9,9.6 348.4,9.7 348.9,9.8 349.5,9.9 350.0,10.0 350.5,10.1 351.0,10.1 351.6,10.2 352.1,10.3 352.6,10.4 353.2,10.5 353.7,10.6 354.2,10.6 354.8,10.7 355.3,10.8 355.8,10.9 356.4,11.0 356.9,11.1 357.4,11.2 357.9,11.2 358.5,11.3 359.0,11.4 359.5,11.5 360.1,11.6 360.6,11.6 361.1,11.7 361.7,11.8 362.2,11.8 362.7,11.9 363.3,11.9 363.8,12.0 364.3,12.0 364.8,12.0 365.4,12.1 365.9,12.1 366.4,12.1 367.0,12.1 367.5,12.1 368.0,12.0 368.6,12.0 369.1,12.0 369.6,11.9 370.2,11.9 370.7,11.8 371.2,11.7 371.7,11.6 372.3,11.5 372.8,11.4 373.3,11.3 373.9,11.2 374.4,11.1 374.9,11.0 375.5,10.9 376.0,10.7 376.5,10.6 377.1,10.5 377.6,10.3 378.1,10.2 378.6,10.1 379.2,9.9 379.7,9.8 380.2,9.6 380.8,9.5 381.3,9.3 381.8,9.2 382.4,9.0 382.9,8.9 383.4,8.7 384.0,8.6 384.5,8.4 385.0,8.3 385.5,8.1 386.1,7.9 386.6,7.7 387.1,7.6 387.7,7.4 388.2,7.2 388.7,7.0 389.3,6.8 389.8,6.6 390.3,6.3 390.9,6.1 391.4,5.9 391.9,5.6 392.4,5.4 393.0,5.1 393.5,4.9 394.0,4.7 394.6,4.4 395.1,4.3 395.6,4.1 396.2,3.9 396.7,3.8 397.2,3.7 397.8,3.7 398.3,3.7 398.8,3.7 399.3,3.8 399.9,3.9 400.4,4.0 400.9,4.2 401.5,4.4 402.0,4.6 402.5,4.9 403.1,5.1 403.6,5.4 404.1,5.6 404.6,5.9 405.2,6.2 405.7,6.5 406.2,6.8 406.8,7.1 407.3,7.4 407.8,7.7 408.4,8.0 408.9,8.2 409.4,8.5 410.0,8.8 410.5,9.1 411.0,9.3 411.5,9.6 412.1,9.8 412.6,10.1 413.1,10.3 413.7,10.5 414.2,10.7 414.7,11.0 415.3,11.1 415.8,11.3 416.3,11.5 416.9,11.7 417.4,11.8 417.9,12.0 418.4,12.1 419.0,12.3 419.5,12.4 420.0,12.5 420.6,12.6 421.1,12.7 421.6,12.8 422.2,12.9 422.7,13.0 423.2,13.1 423.8,13.2 424.3,13.2 424.8,13.3 425.3,13.3 425.9,13.4 426.4,13.4 426.9,13.5 427.5,13.5 428.0,13.6 428.5,13.6 429.1,13.6 429.6,13.7 430.1,13.7 430.7,13.7 431.2,13.7 431.7,13.8 432.2,13.8 432.8,13.8 433.3,13.8 433.8,13.8 434.4,13.8 434.9,13.8 435.4,13.9 436.0,13.9 436.5,13.9 437.0,13.9 437.6,13.8 438.1,13.8 438.6,13.8 439.1,13.8 439.7,13.8 440.2,13.8 440.7,13.8 441.3,13.7 441.8,13.7 442.3,13.7 442.9,13.6 443.4,13.6 443.9,13.6 444.5,13.5 445.0,13.5 445.5,13.4 446.0,13.4 446.6,13.3 447.1,13.3 447.6,13.2 448.2,13.2 448.7,13.1 449.2,13.1 449.8,13.0 450.3,13.0 450.8,12.9 451.4,12.8 451.9,12.8 452.4,12.7 452.9,12.7 453.5,12.6 454.0,12.5 454.5,12.5 455.1,12.4 455.6,12.3 456.1,12.3 456.7,12.2 457.2,12.2 457.7,12.1 458.3,12.0 458.8,12.0 459.3,11.9 459.8,11.9 460.4,11.8 460.9,11.8 461.4,11.7 462.0,11.7 462.5,11.7 463.0,11.6 463.6,11.6 464.1,11.5 464.6,11.5 465.2,11.5 465.7,11.5 466.2,11.4 466.7,11.4 467.3,11.4 467.8,11.4 468.3,11.4 468.9,11.4 469.4,11.4 469.9,11.4 470.5,11.4 471.0,11.5 471.5,11.5 472.1,11.6 472.6,11.7 473.1,11.8 473.6,11.9 474.2,12.1 474.7,12.2 475.2,12.4 475.8,12.6 476.3,12.9 476.8,13.2 477.4,13.5 477.9,13.9 478.4,14.3 479.0,14.7 479.5,15.2 480.0,15.7 480.5,16.2 481.1,16.8 481.6,17.4 482.1,18.1 482.7,18.8 483.2,19.5 483.7,20.3 484.3,21.2 484.8,22.1 485.3,23.0 485.8,23.9 486.4,24.9 486.9,25.9 487.4,26.9 488.0,28.0 488.5,29.0 489.0,30.1 489.6,31.2 490.1,32.2 490.6,33.3 491.2,34.4 491.7,35.5 492.2,36.6 492.7,37.7 493.3,38.8 493.8,39.9 494.3,41.1 494.9,42.3 495.4,43.5 495.9,44.7 496.5,45.9 497.0,47.2 497.5,48.5 498.1,49.8 498.6,51.1 499.1,52.5 499.6,53.9 500.2,55.3 500.7,56.7 501.2,58.2 501.8,59.7 502.3,61.2 502.8,62.7 503.4,64.2 503.9,65.8 504.4,67.3 505.0,68.8 505.5,70.4 506.0,71.9 506.5,73.4 507.1,74.9 507.6,76.5 508.1,77.9 508.7,79.4 509.2,80.9 509.7,82.3 510.3,83.8 510.8,85.3 511.3,86.8 511.9,88.3 512.4,89.9 512.9,91.6 513.4,93.3 514.0,95.1 514.5,96.9 515.0,98.8 515.6,100.7 516.1,102.6" fill="none" stroke="#2020cc" stroke-width="1.40" stroke-linejoin="round" stroke-linecap="round"/>
<path d="M293.2,86.1 293.7,84.2 294.3,82.2 294.8,80.2 295.3,78.2 295.9,76.2 296.4,74.3 296.9,72.3 297.4,70.4 298.0,68.5 298.5,66.6 299.0,64.6 299.6,62.7 300.1,60.8 300.6,58.9 301.2,57.0 301.7,55.0 302.2,53.1 302.8,51.1 303.3,49.2 303.8,47.3 304.3,45.5 304.9,43.7 305.4,42.0 305.9,40.3 306.5,38.7 307.0,37.2 307.5,35.7 308.1,34.2 308.6,32.7 309.1,31.3 309.7,29.9 310.2,28.6 310.7,27.2 311.2,25.9 311.8,24.7 312.3,23.5 312.8,22.4 313.4,21.3 313.9,20.3 314.4,19.4 315.0,18.5 315.5,17.6 316.0,16.9 316.6,16.1 317.1,15.5 317.6,14.8 318.1,14.2 318.7,13.7 319.2,13.2 319.7,12.7 320.3,12.3 320.8,11.9 321.3,11.5 321.9,11.2 322.4,10.8 322.9,10.5 323.5,10.2 324.0,9.9 324.5,9.7 325.0,9.4 325.6,9.2 326.1,9.0 326.6,8.8 327.2,8.7 327.7,8.5 328.2,8.4 328.8,8.3 329.3,8.2 329.8,8.1 330.4,8.1 330.9,8.0 331.4,8.0 331.9,8.0 332.5,8.0 333.0,8.0 333.5,8.0 334.1,8.0 334.6,8.0 335.1,8.0 335.7,8.1 336.2,8.1 336.7,8.2 337.2,8.2 337.8,8.3 338.3,8.3 338.8,8.4 339.4,8.5 339.9,8.5 340.4,8.6 341.0,8.7 341.5,8.7 342.0,8.8 342.6,8.9 343.1,8.9 343.6,9.0 344.1,9.1 344.7,9.2 345.2,9.2 345.7,9.3 346.3,9.4 346.8,9.5 347.3,9.6 347.9,9.6 348.4,9.7 348.9,9.8 349.5,9.9 350.0,10.0 350.5,10.1 351.0,10.1 351.6,10.2 352.1,10.3 352.6,10.4 353.2,10.5 353.7,10.6 354.2,10.6 354.8,10.7 355.3,10.8 355.8,10.9 356.4,11.0 356.9,11.1 357.4,11.2 357.9,11.2 358.5,11.3 359.0,11.4 359.5,11.5 360.1,11.6 360.6,11.6 361.1,11.7 361.7,11.8 362.2,11.8 362.7,11.9 363.3,11.9 363.8,12.0 364.3,12.0 364.8,12.0 365.4,12.1 365.9,12.1 366.4,12.1 367.0,12.1 367.5,12.1 368.0,12.0 368.6,12.0 369.1,12.0 369.6,11.9 370.2,11.9 370.7,11.8 371.2,11.7 371.7,11.6 372.3,11.5 372.8,11.4 373.3,11.3 373.9,11.2 374.4,11.1 374.9,11.0 375.5,10.9 376.0,10.7 376.5,10.6 377.1,10.5 377.6,10.3 378.1,10.2 378.6,10.1 379.2,9.9 379.7,9.8 380.2,9.6 380.8,9.5 381.3,9.3 381.8,9.2 382.4,9.0 382.9,8.9 383.4,8.7 384.0,8.6 384.5,8.4 385.0,8.3 385.5,8.1 386.1,7.9 386.6,7.7 387.1,7.6 387.7,7.4 388.2,7.2 388.7,7.0 389.3,6.8 389.8,6.6 390.3,6.3 390.9,6.1 391.4,5.9 391.9,5.6 392.4,5.4 393.0,5.1 393.5,4.9 394.0,4.7 394.6,4.4 395.1,4.3 395.6,4.1 396.2,3.9 396.7,3.8 397.2,3.7 397.8,3.7 398.3,3.7 398.8,3.7 399.3,3.8 399.9,3.9 400.4,4.0 400.9,4.2 401.5,4.4 402.0,4.6 402.5,4.9 403.1,5.1 403.6,5.4 404.1,5.6 404.6,5.9 405.2,6.2 405.7,6.5 406.2,6.8 406.8,7.1 407.3,7.4 407.8,7.7 408.4,8.0 408.9,8.2 409.4,8.5 410.0,8.8 410.5,9.1 411.0,9.3 411.5,9.6 412.1,9.8 412.6,10.1 413.1,10.3 413.7,10.5 414.2,10.7 414.7,11.0 415.3,11.1 415.8,11.3 416.3,11.5 416.9,11.7 417.4,11.8 417.9,12.0 418.4,12.1 419.0,12.3 419.5,12.4 420.0,12.5 420.6,12.6 421.1,12.7 421.6,12.8 422.2,12.9 422.7,13.0 423.2,13.1 423.8,13.2 424.3,13.2 424.8,13.3 425.3,13.3 425.9,13.4 426.4,13.4 426.9,13.5 427.5,13.5 428.0,13.6 428.5,13.6 429.1,13.6 429.6,13.7 430.1,13.7 430.7,13.7 431.2,13.7 431.7,13.8 432.2,13.8 432.8,13.8 433.3,13.8 433.8,13.8 434.4,13.8 434.9,13.8 435.4,13.9 436.0,13.9 436.5,13.9 437.0,13.9 437.6,13.8 438.1,13.8 438.6,13.8 439.1,13.8 439.7,13.8 440.2,13.8 440.7,13.8 441.3,13.7 441.8,13.7 442.3,13.7 442.9,13.6 443.4,13.6 443.9,13.6 444.5,13.5 445.0,13.5 445.5,13.4 446.0,13.4 446.6,13.3 447.1,13.3 447.6,13.2 448.2,13.2 448.7,13.1 449.2,13.1 449.8,13.0 450.3,13.0 450.8,12.9 451.4,12.8 451.9,12.8 452.4,12.7 452.9,12.7 453.5,12.6 454.0,12.5 454.5,12.5 455.1,12.4 455.6,12.3 456.1,12.3 456.7,12.2 457.2,12.2 457.7,12.1 458.3,12.0 458.8,12.0 459.3,11.9 459.8,11.9 460.4,11.8 460.9,11.8 461.4,11.7 462.0,11.7 462.5,11.7 463.0,11.6 463.6,11.6 464.1,11.5 464.6,11.5 465.2,11.5 465.7,11.5 466.2,11.4 466.7,11.4 467.3,11.4 467.8,11.4 468.3,11.4 468.9,11.4 469.4,11.4 469.9,11.4 470.5,11.4 471.0,11.5 471.5,11.5 472.1,11.6 472.6,11.7 473.1,11.8 473.6,11.9 474.2,12.1 474.7,12.2 475.2,12.4 475.8,12.6 476.3,12.9 476.8,13.2 477.4,13.5 477.9,13.9 478.4,14.3 479.0,14.7 479.5,15.2 480.0,15.7 480.5,16.3 481.1,16.9 481.6,17.5 482.1,18.2 482.7,19.0 483.2,19.7 483.7,20.6 484.3,21.4 484.8,22.3 485.3,23.3 485.8,24.3 486.4,25.3 486.9,26.3 487.4,27.4 488.0,28.4 488.5,29.5 489.0,30.6 489.6,31.7 490.1,32.8 490.6,33.9 491.2,35.0 491.7,36.1 492.2,37.2 492.7,38.4 493.3,39.6 493.8,40.9 494.3,42.1 494.9,43.4 495.4,44.7 495.9,46.0 496.5,47.3 497.0,48.7 497.5,50.1 498.1,51.5 498.6,52.9 499.1,54.4 499.6,55.9 500.2,57.4 500.7,59.0 501.2,60.5 501.8,62.1 502.3,63.7 502.8,65.3 503.4,67.0 503.9,68.6 504.4,70.2 505.0,71.8 505.5,73.4 506.0,75.1 506.5,76.7 507.1,78.2 507.6,79.8 508.1,81.4 508.7,83.0 509.2,84.5 509.7,86.0 510.3,87.6 510.8,89.2 511.3,90.8 511.9,92.4 512.4,94.2 512.9,95.9 513.4,97.8 514.0,99.7 514.5,101.6 515.0,103.6 515.6,105.6 516.1,107.5" fill="none" stroke="#141414" stroke-width="1.60" stroke-linejoin="round" stroke-linecap="round"/>
<path d="M293.2,86.1 293.7,84.2 294.3,82.2 294.8,80.2 295.3,78.2 295.9,76.2 296.4,74.3 296.9,72.3 297.4,70.4 298.0,68.5 298.5,66.6 299.0,64.6 299.6,62.7 300.1,60.8 300.6,58.9 301.2,57.0 301.7,55.0 302.2,53.1 302.8,51.1 303.3,49.2 303.8,47.3 304.3,45.5 304.9,43.7 305.4,42.0 305.9,40.3 306.5,38.7 307.0,37.2 307.5,35.7 308.1,34.2 308.6,32.7 309.1,31.3 309.7,29.9 310.2,28.6 310.7,27.2 311.2,25.9 311.8,24.7 312.3,23.5 312.8,22.4 313.4,21.3 313.9,20.3 314.4,19.4 315.0,18.5 315.5,17.6 316.0,16.9 316.6,16.1 317.1,15.5 317.6,14.8 318.1,14.2 318.7,13.7 319.2,13.2 319.7,12.7 320.3,12.3 320.8,11.9 321.3,11.5 321.9,11.2 322.4,10.8 322.9,10.5 323.5,10.2 324.0,9.9 324.5,9.7 325.0,9.4 325.6,9.2 326.1,9.0 326.6,8.8 327.2,8.7 327.7,8.5 328.2,8.4 328.8,8.3 329.3,8.2 329.8,8.1 330.4,8.1 330.9,8.0 331.4,8.0 331.9,8.0 332.5,8.0 333.0,8.0 333.5,8.0 334.1,8.0 334.6,8.0 335.1,8.0 335.7,8.1 336.2,8.1 336.7,8.2 337.2,8.2 337.8,8.3 338.3,8.3 338.8,8.4 339.4,8.5 339.9,8.5 340.4,8.6 341.0,8.7 341.5,8.7 342.0,8.8 342.6,8.9 343.1,8.9 343.6,9.0 344.1,9.1 344.7,9.2 345.2,9.2 345.7,9.3 346.3,9.4 346.8,9.5 347.3,9.6 347.9,9.6 348.4,9.7 348.9,9.8 349.5,9.9 350.0,10.0 350.5,10.1 351.0,10.1 351.6,10.2 352.1,10.3 352.6,10.4 353.2,10.5 353.7,10.6 354.2,10.6 354.8,10.7 355.3,10.8 355.8,10.9 356.4,11.0 356.9,11.1 357.4,11.2 357.9,11.2 358.5,11.3 359.0,11.4 359.5,11.5 360.1,11.6 360.6,11.6 361.1,11.7 361.7,11.8 362.2,11.8 362.7,11.9 363.3,11.9 363.8,12.0 364.3,12.0 364.8,12.0 365.4,12.1 365.9,12.1 366.4,12.1 367.0,12.1 367.5,12.1 368.0,12.0 368.6,12.0 369.1,12.0 369.6,11.9 370.2,11.9 370.7,11.8 371.2,11.7 371.7,11.6 372.3,11.5 372.8,11.4 373.3,11.3 373.9,11.2 374.4,11.1 374.9,11.0 375.5,10.9 376.0,10.7 376.5,10.6 377.1,10.5 377.6,10.3 378.1,10.2 378.6,10.1 379.2,9.9 379.7,9.8 380.2,9.6 380.8,9.5 381.3,9.3 381.8,9.2 382.4,9.0 382.9,8.9 383.4,8.7 384.0,8.6 384.5,8.4 385.0,8.3 385.5,8.1 386.1,7.9 386.6,7.7 387.1,7.6 387.7,7.4 388.2,7.2 388.7,7.0 389.3,6.8 389.8,6.6 390.3,6.3 390.9,6.1 391.4,5.9 391.9,5.6 392.4,5.4 393.0,5.1 393.5,4.9 394.0,4.7 394.6,4.4 395.1,4.3 395.6,4.1 396.2,3.9 396.7,3.8 397.2,3.7 397.8,3.7 398.3,3.7 398.8,3.7 399.3,3.8 399.9,3.9 400.4,4.0 400.9,4.2 401.5,4.4 402.0,4.6 402.5,4.9 403.1,5.1 403.6,5.4 404.1,5.6 404.6,5.9 405.2,6.2 405.7,6.5 406.2,6.8 406.8,7.1 407.3,7.4 407.8,7.7 408.4,8.0 408.9,8.2 409.4,8.5 410.0,8.8 410.5,9.1 411.0,9.3 411.5,9.6 412.1,9.8 412.6,10.1 413.1,10.3 413.7,10.5 414.2,10.7 414.7,11.0 415.3,11.1 415.8,11.3 416.3,11.5 416.9,11.7 417.4,11.8 417.9,12.0 418.4,12.1 419.0,12.3 419.5,12.4 420.0,12.5 420.6,12.6 421.1,12.7 421.6,12.8 422.2,12.9 422.7,13.0 423.2,13.1 423.8,13.2 424.3,13.2 424.8,13.3 425.3,13.3 425.9,13.4 426.4,13.4 426.9,13.5 427.5,13.5 428.0,13.6 428.5,13.6 429.1,13.6 429.6,13.7 430.1,13.7 430.7,13.7 431.2,13.7 431.7,13.8 432.2,13.8 432.8,13.8 433.3,13.8 433.8,13.8 434.4,13.8 434.9,13.8 435.4,13.9 436.0,13.9 436.5,13.9 437.0,13.9 437.6,13.8 438.1,13.8 438.6,13.8 439.1,13.8 439.7,13.8 440.2,13.8 440.7,13.8 441.3,13.7 441.8,13.7 442.3,13.7 442.9,13.6 443.4,13.6 443.9,13.6 444.5,13.5 445.0,13.5 445.5,13.4 446.0,13.4 446.6,13.3 447.1,13.3 447.6,13.2 448.2,13.2 448.7,13.1 449.2,13.1 449.8,13.0 450.3,13.0 450.8,12.9 451.4,12.8 451.9,12.8 452.4,12.7 452.9,12.7 453.5,12.6 454.0,12.5 454.5,12.5 455.1,12.4 455.6,12.3 456.1,12.3 456.7,12.2 457.2,12.2 457.7,12.1 458.3,12.0 458.8,12.0 459.3,11.9 459.8,11.9 460.4,11.8 460.9,11.8 461.4,11.7 462.0,11.7 462.5,11.7 463.0,11.6 463.6,11.6 464.1,11.5 464.6,11.5 465.2,11.5 465.7,11.5 466.2,11.4 466.7,11.4 467.3,11.4 467.8,11.4 468.3,11.4 468.9,11.4 469.4,11.4 469.9,11.4 470.5,11.4 471.0,11.5 471.5,11.5 472.1,11.6 472.6,11.7 473.1,11.8 473.6,11.9 474.2,12.1 474.7,12.2 475.2,12.4 475.8,12.6 476.3,12.9 476.8,13.2 477.4,13.5 477.9,13.8 478.4,14.2 479.0,14.6 479.5,15.0 480.0,15.5 480.5,16.0 481.1,16.5 481.6,17.1 482.1,17.7 482.7,18.4 483.2,19.0 483.7,19.8 484.3,20.5 484.8,21.4 485.3,22.2 485.8,23.1 486.4,24.0 486.9,24.9 487.4,25.9 488.0,26.8 488.5,27.8 489.0,28.8 489.6,29.8 490.1,30.8 490.6,31.9 491.2,32.9 491.7,33.9 492.2,34.9 492.7,35.9 493.3,37.0 493.8,38.0 494.3,39.0 494.9,40.1 495.4,41.1 495.9,42.2 496.5,43.3 497.0,44.5 497.5,45.6 498.1,46.8 498.6,48.0 499.1,49.2 499.6,50.5 500.2,51.8 500.7,53.1 501.2,54.4 501.8,55.8 502.3,57.2 502.8,58.6 503.4,60.0 503.9,61.4 504.4,62.9 505.0,64.3 505.5,65.8 506.0,67.2 506.5,68.7 507.1,70.1 507.6,71.5 508.1,72.9 508.7,74.3 509.2,75.7 509.7,77.1 510.3,78.5 510.8,79.8 511.3,81.2 511.9,82.6 512.4,84.0 512.9,85.5 513.4,87.0 514.0,88.6 514.5,90.3 515.0,92.0 515.6,93.8 516.1,95.6" fill="none" stroke="#1d6e26" stroke-width="1.00" stroke-linejoin="round" stroke-linecap="round"/>
<path d="M404.6,5.6 405.2,5.9 405.7,6.2 406.2,6.5 406.8,6.8 407.3,7.1 407.8,7.4 408.4,7.6 408.9,7.9 409.4,8.2 410.0,8.5 410.5,8.7 411.0,9.0 411.5,9.3 412.1,9.5 412.6,9.7 413.1,10.0 413.7,10.2 414.2,10.4 414.7,10.6 415.3,10.8 415.8,11.0 416.3,11.2 416.9,11.4 417.4,11.5 417.9,11.7 418.4,11.8 419.0,12.0 419.5,12.1 420.0,12.2 420.6,12.3 421.1,12.4 421.6,12.5 422.2,12.6 422.7,12.7 423.2,12.8 423.8,12.8 424.3,12.9 424.8,13.0 425.3,13.0 425.9,13.1 426.4,13.1 426.9,13.2 427.5,13.2 428.0,13.2 428.5,13.3 429.1,13.3 429.6,13.3 430.1,13.4 430.7,13.4 431.2,13.4 431.7,13.4 432.2,13.5 432.8,13.5 433.3,13.5 433.8,13.5 434.4,13.5 434.9,13.5 435.4,13.5 436.0,13.5 436.5,13.5 437.0,13.5 437.6,13.5 438.1,13.5 438.6,13.5 439.1,13.5 439.7,13.5 440.2,13.5 440.7,13.4 441.3,13.4 441.8,13.4 442.3,13.4 442.9,13.3 443.4,13.3 443.9,13.3 444.5,13.2 445.0,13.2 445.5,13.1 446.0,13.1 446.6,13.0 447.1,13.0 447.6,12.9 448.2,12.9 448.7,12.8 449.2,12.8 449.8,12.7 450.3,12.6 450.8,12.6 451.4,12.5 451.9,12.5 452.4,12.4" fill="none" stroke="#d8222e" stroke-width="0.70" stroke-linejoin="round" stroke-linecap="round"/>
<path d="M449.2,13.1 449.8,13.0 450.3,13.0 450.8,12.9 451.4,12.8 451.9,12.8 452.4,12.7 452.9,12.7 453.5,12.6 454.0,12.5 454.5,12.5 455.1,12.4 455.6,12.3 456.1,12.3 456.7,12.2 457.2,12.2 457.7,12.1 458.3,12.0 458.8,12.0 459.3,11.9 459.8,11.9 460.4,11.8 460.9,11.8 461.4,11.7 462.0,11.7 462.5,11.7 463.0,11.6 463.6,11.6 464.1,11.5 464.6,11.5 465.2,11.5 465.7,11.5 466.2,11.4 466.7,11.4 467.3,11.4 467.8,11.4 468.3,11.4 468.9,11.4 469.4,11.4 469.9,11.4 470.5,11.4 471.0,11.5 471.5,11.5 472.1,11.6 472.6,11.7 473.1,11.8 473.6,11.9 474.2,12.1 474.7,12.2 475.2,12.4 475.8,12.6 476.3,12.9 476.8,13.2 477.4,13.5 477.9,13.9 478.4,14.3 479.0,14.7 479.5,15.2 480.0,15.7 480.5,16.2 481.1,16.8 481.6,17.4 482.1,18.1 482.7,18.8 483.2,19.5 483.7,20.3 484.3,21.2 484.8,22.1 485.3,23.0 485.8,23.9 486.4,24.9 486.9,25.9 487.4,26.9 488.0,28.0 488.5,29.0 489.0,30.1 489.6,31.2 490.1,32.2 490.6,33.3 491.2,34.4 491.7,35.5 492.2,36.6 492.7,37.7 493.3,38.8 493.8,39.9" fill="none" stroke="#2020cc" stroke-width="1.40" stroke-linejoin="round" stroke-linecap="round"/>
<path d="M452.4,13.0 452.9,13.0 453.5,12.9 454.0,12.8 454.5,12.8 455.1,12.7 455.6,12.7 456.1,12.6 456.7,12.5 457.2,12.5 457.7,12.4 458.3,12.4 458.8,12.3 459.3,12.3 459.8,12.2 460.4,12.2 460.9,12.1 461.4,12.1 462.0,12.0 462.5,12.0 463.0,11.9 463.6,11.9 464.1,11.9 464.6,11.8 465.2,11.8 465.7,11.8 466.2,11.8 466.7,11.7 467.3,11.7 467.8,11.7 468.3,11.7 468.9,11.7 469.4,11.7 469.9,11.7 470.5,11.8 471.0,11.8 471.5,11.8 472.1,11.9 472.6,12.0 473.1,12.1 473.6,12.2 474.2,12.4 474.7,12.5 475.2,12.7 475.8,13.0 476.3,13.2 476.8,13.5 477.4,13.8 477.9,14.2 478.4,14.6 479.0,15.0 479.5,15.5 480.0,16.0 480.5,16.6 481.1,17.2 481.6,17.9 482.1,18.6 482.7,19.3 483.2,20.1 483.7,21.0 484.3,21.9 484.8,22.8 485.3,23.8 485.8,24.8 486.4,25.8 486.9,26.8 487.4,27.9 488.0,29.0 488.5,30.1 489.0,31.2 489.6,32.3 490.1,33.4 490.6,34.5" fill="none" stroke="#d622d6" stroke-width="0.60" stroke-linejoin="round" stroke-linecap="round"/>
<rect x="318.3" y="24.5" width="52.2" height="52.2" fill="#fff" stroke="#8a8a8a" stroke-width="0.9"/>
<line x1="321.8" y1="32.30" x2="339.7" y2="32.30" stroke="#141414" stroke-width="1.3" stroke-opacity="0.7"/>
<text x="342.4" y="34.60" class="lg">t=0.2mm</text>
<line x1="321.8" y1="42.10" x2="339.7" y2="42.10" stroke="#d8222e" stroke-width="1.3" stroke-opacity="0.7"/>
<text x="342.4" y="44.40" class="lg">t=0.6mm</text>
<line x1="321.8" y1="51.90" x2="339.7" y2="51.90" stroke="#2020cc" stroke-width="1.3" stroke-opacity="0.7"/>
<text x="342.4" y="54.20" class="lg">t=1.0mm</text>
<line x1="321.8" y1="61.70" x2="339.7" y2="61.70" stroke="#d622d6" stroke-width="1.3" stroke-opacity="0.7"/>
<text x="342.4" y="64.00" class="lg">t=1.4mm</text>
<line x1="321.8" y1="71.80" x2="339.7" y2="71.80" stroke="#1d6e26" stroke-width="1.3" stroke-opacity="0.7"/>
<text x="342.4" y="74.10" class="lg">t=1.8mm</text>
<rect x="26.60" y="220.15" width="223.90" height="164.70" fill="none" stroke="#5a5a5a" stroke-width="1.2"/>
<line x1="23.10" y1="384.85" x2="26.60" y2="384.85" stroke="#5a5a5a" stroke-width="1"/>
<text transform="translate(21.60,387.85) scale(0.890,1)" class="tl" text-anchor="end">0.0</text>
<line x1="24.60" y1="368.70" x2="26.60" y2="368.70" stroke="#5a5a5a" stroke-width="1"/>
<line x1="23.10" y1="352.54" x2="26.60" y2="352.54" stroke="#5a5a5a" stroke-width="1"/>
<text transform="translate(21.60,355.54) scale(0.890,1)" class="tl" text-anchor="end">0.2</text>
<line x1="24.60" y1="336.38" x2="26.60" y2="336.38" stroke="#5a5a5a" stroke-width="1"/>
<line x1="23.10" y1="320.23" x2="26.60" y2="320.23" stroke="#5a5a5a" stroke-width="1"/>
<text transform="translate(21.60,323.23) scale(0.890,1)" class="tl" text-anchor="end">0.4</text>
<line x1="24.60" y1="304.08" x2="26.60" y2="304.08" stroke="#5a5a5a" stroke-width="1"/>
<line x1="23.10" y1="287.92" x2="26.60" y2="287.92" stroke="#5a5a5a" stroke-width="1"/>
<text transform="translate(21.60,290.92) scale(0.890,1)" class="tl" text-anchor="end">0.6</text>
<line x1="24.60" y1="271.77" x2="26.60" y2="271.77" stroke="#5a5a5a" stroke-width="1"/>
<line x1="23.10" y1="255.61" x2="26.60" y2="255.61" stroke="#5a5a5a" stroke-width="1"/>
<text transform="translate(21.60,258.61) scale(0.890,1)" class="tl" text-anchor="end">0.8</text>
<line x1="24.60" y1="239.46" x2="26.60" y2="239.46" stroke="#5a5a5a" stroke-width="1"/>
<line x1="23.10" y1="223.30" x2="26.60" y2="223.30" stroke="#5a5a5a" stroke-width="1"/>
<text transform="translate(21.60,226.30) scale(0.890,1)" class="tl" text-anchor="end">1.0</text>
<line x1="26.60" y1="384.85" x2="26.60" y2="388.05" stroke="#5a5a5a" stroke-width="1"/>
<text transform="translate(26.60,395.75) scale(0.890,1)" class="tl" text-anchor="middle">2</text>
<line x1="42.59" y1="384.85" x2="42.59" y2="386.65" stroke="#5a5a5a" stroke-width="1"/>
<line x1="58.59" y1="384.85" x2="58.59" y2="388.05" stroke="#5a5a5a" stroke-width="1"/>
<text transform="translate(58.59,395.75) scale(0.890,1)" class="tl" text-anchor="middle">4</text>
<line x1="74.58" y1="384.85" x2="74.58" y2="386.65" stroke="#5a5a5a" stroke-width="1"/>
<line x1="90.57" y1="384.85" x2="90.57" y2="388.05" stroke="#5a5a5a" stroke-width="1"/>
<text transform="translate(90.57,395.75) scale(0.890,1)" class="tl" text-anchor="middle">6</text>
<line x1="106.56" y1="384.85" x2="106.56" y2="386.65" stroke="#5a5a5a" stroke-width="1"/>
<line x1="122.56" y1="384.85" x2="122.56" y2="388.05" stroke="#5a5a5a" stroke-width="1"/>
<text transform="translate(122.56,395.75) scale(0.890,1)" class="tl" text-anchor="middle">8</text>
<line x1="138.55" y1="384.85" x2="138.55" y2="386.65" stroke="#5a5a5a" stroke-width="1"/>
<line x1="154.54" y1="384.85" x2="154.54" y2="388.05" stroke="#5a5a5a" stroke-width="1"/>
<text transform="translate(154.54,395.75) scale(0.890,1)" class="tl" text-anchor="middle">10</text>
<line x1="170.54" y1="384.85" x2="170.54" y2="386.65" stroke="#5a5a5a" stroke-width="1"/>
<line x1="186.53" y1="384.85" x2="186.53" y2="388.05" stroke="#5a5a5a" stroke-width="1"/>
<text transform="translate(186.53,395.75) scale(0.890,1)" class="tl" text-anchor="middle">12</text>
<line x1="202.52" y1="384.85" x2="202.52" y2="386.65" stroke="#5a5a5a" stroke-width="1"/>
<line x1="218.51" y1="384.85" x2="218.51" y2="388.05" stroke="#5a5a5a" stroke-width="1"/>
<text transform="translate(218.51,395.75) scale(0.890,1)" class="tl" text-anchor="middle">14</text>
<line x1="234.51" y1="384.85" x2="234.51" y2="386.65" stroke="#5a5a5a" stroke-width="1"/>
<line x1="250.50" y1="384.85" x2="250.50" y2="388.05" stroke="#5a5a5a" stroke-width="1"/>
<text transform="translate(250.50,395.75) scale(0.890,1)" class="tl" text-anchor="middle">16</text>
<text transform="translate(138.55,410.45) scale(0.900,1)" class="at" text-anchor="middle">Frequency(GHz)</text>
<text transform="translate(6.30,307.30) rotate(-90) scale(1,0.9)" class="ab" text-anchor="middle">Absorption</text>
<text x="133.50" y="424.50" class="pl" text-anchor="middle">(c)</text>
<path d="M26.6,306.2 27.1,306.2 27.7,306.2 28.2,304.7 28.7,302.7 29.3,300.7 29.8,298.7 30.3,296.7 30.9,294.8 31.4,292.8 31.9,290.9 32.5,288.9 33.0,287.0 33.5,285.1 34.1,283.2 34.6,281.3 35.1,279.4 35.7,277.4 36.2,275.5 36.7,273.5 37.3,271.6 37.8,269.6 38.3,267.7 38.9,265.9 39.4,264.1 39.9,262.3 40.5,260.7 41.0,259.0 41.5,257.5 42.1,255.9 42.6,254.5 43.1,253.0 43.7,251.6 44.2,250.1 44.7,248.8 45.3,247.4 45.8,246.1 46.3,244.9 46.9,243.6 47.4,242.5 47.9,241.4 48.5,240.4 49.0,239.4 49.5,238.5 50.1,237.7 50.6,236.9 51.1,236.1 51.7,235.5 52.2,234.8 52.7,234.2 53.3,233.7 53.8,233.2 54.3,232.7 54.9,232.2 55.4,231.8 55.9,231.4 56.5,231.1 57.0,230.7 57.5,230.4 58.1,230.1 58.6,229.8 59.1,229.6 59.7,229.3 60.2,229.1 60.7,228.9 61.3,228.7 61.8,228.5 62.3,228.4 62.9,228.2 63.4,228.1 63.9,228.0 64.4,227.9 65.0,227.9 65.5,227.8 66.0,227.8 66.6,227.8 67.1,227.8 67.6,227.8 68.2,227.8 68.7,227.8 69.2,227.8 69.8,227.9 70.3,227.9 70.8,227.9 71.4,228.0 71.9,228.0 72.4,228.1 73.0,228.1 73.5,228.2 74.0,228.3 74.6,228.3 75.1,228.4 75.6,228.5 76.2,228.6 76.7,228.6 77.2,228.7 77.8,228.8 78.3,228.9 78.8,228.9 79.4,229.0 79.9,229.1 80.4,229.2 81.0,229.3 81.5,229.3 82.0,229.4 82.6,229.5 83.1,229.6 83.6,229.7 84.2,229.8 84.7,229.8 85.2,229.9 85.8,230.0 86.3,230.1 86.8,230.2 87.4,230.3 87.9,230.4 88.4,230.4 89.0,230.5 89.5,230.6 90.0,230.7 90.6,230.8 91.1,230.9 91.6,231.0 92.2,231.1 92.7,231.1 93.2,231.2 93.8,231.3 94.3,231.4 94.8,231.5 95.4,231.5 95.9,231.6 96.4,231.6 97.0,231.7 97.5,231.8 98.0,231.8 98.6,231.8 99.1,231.9 99.6,231.9 100.2,231.9 100.7,231.9 101.2,231.9 101.8,231.9 102.3,231.8 102.8,231.8 103.4,231.8 103.9,231.7 104.4,231.6 105.0,231.6 105.5,231.5 106.0,231.4 106.6,231.3 107.1,231.2 107.6,231.1 108.2,231.0 108.7,230.8 109.2,230.7 109.8,230.6 110.3,230.5 110.8,230.3 111.4,230.2 111.9,230.0 112.4,229.9 113.0,229.7 113.5,229.6 114.0,229.4 114.6,229.3 115.1,229.2 115.6,229.0 116.2,228.9 116.7,228.7 117.2,228.5 117.8,228.4 118.3,228.2 118.8,228.1 119.4,227.9 119.9,227.7 120.4,227.5 121.0,227.4 121.5,227.2 122.0,227.0 122.6,226.8 123.1,226.6 123.6,226.4 124.2,226.1 124.7,225.9 125.2,225.7 125.8,225.4 126.3,225.2 126.8,224.9 127.4,224.7 127.9,224.5 128.4,224.3 129.0,224.1 129.5,223.9 130.0,223.7 130.6,223.6 131.1,223.5 131.6,223.5 132.2,223.5 132.7,223.5 133.2,223.6 133.8,223.7 134.3,223.8 134.8,224.0 135.4,224.2 135.9,224.4 136.4,224.6 137.0,224.8 137.5,225.1 138.0,225.3 138.6,225.6 139.1,225.9 139.6,226.1 140.1,226.4 140.7,226.7 141.2,227.0 141.7,227.3 142.3,227.5 142.8,227.8 143.3,228.1 143.9,228.4 144.4,228.6 144.9,228.9 145.5,229.1 146.0,229.4 146.5,229.6 147.1,229.8 147.6,230.1 148.1,230.3 148.7,230.5 149.2,230.7 149.7,230.9 150.3,231.1 150.8,231.2 151.3,231.4 151.9,231.6 152.4,231.7 152.9,231.9 153.5,232.0 154.0,232.1 154.5,232.2 155.1,232.3 155.6,232.4 156.1,232.4 156.7,232.5 157.2,232.5 157.7,232.5 158.3,232.6 158.8,232.6 159.3,232.6 159.9,232.6 160.4,232.6 160.9,232.6 161.5,232.6 162.0,232.6 162.5,232.6 163.1,232.6 163.6,232.6 164.1,232.6 164.7,232.6 165.2,232.6 165.7,232.5 166.3,232.5 166.8,232.5 167.3,232.5 167.9,232.4 168.4,232.4 168.9,232.4 169.5,232.3 170.0,232.3 170.5,232.3 171.1,232.2 171.6,232.2 172.1,232.1 172.7,232.1 173.2,232.0 173.7,232.0 174.3,231.9 174.8,231.9 175.3,231.8 175.9,231.7 176.4,231.7 176.9,231.6 177.5,231.5 178.0,231.5 178.5,231.4 179.1,231.3 179.6,231.2 180.1,231.1 180.7,231.1 181.2,231.0 181.7,230.9 182.3,230.8 182.8,230.7 183.3,230.6 183.9,230.5 184.4,230.4 184.9,230.3 185.5,230.2 186.0,230.1 186.5,230.0 187.1,229.9 187.6,229.8 188.1,229.7 188.7,229.6 189.2,229.5 189.7,229.3 190.3,229.2 190.8,229.1 191.3,229.0 191.9,228.9 192.4,228.8 192.9,228.7 193.5,228.6 194.0,228.5 194.5,228.4 195.1,228.3 195.6,228.2 196.1,228.1 196.7,228.0 197.2,227.9 197.7,227.8 198.3,227.7 198.8,227.6 199.3,227.5 199.9,227.5 200.4,227.4 200.9,227.3 201.5,227.2 202.0,227.1 202.5,227.1 203.1,227.0 203.6,226.9 204.1,226.9 204.7,226.8 205.2,226.7 205.7,226.7 206.3,226.7 206.8,226.7 207.3,226.7 207.9,226.7 208.4,226.8 208.9,226.8 209.5,226.9 210.0,226.9 210.5,227.0 211.1,227.1 211.6,227.3 212.1,227.4 212.7,227.6 213.2,227.8 213.7,228.0 214.2,228.3 214.8,228.6 215.3,228.9 215.8,229.2 216.4,229.6 216.9,230.0 217.4,230.5 218.0,231.0 218.5,231.5 219.0,232.0 219.6,232.6 220.1,233.3 220.6,233.9 221.2,234.7 221.7,235.4 222.2,236.2 222.8,237.0 223.3,237.9 223.8,238.8 224.4,239.7 224.9,240.6 225.4,241.6 226.0,242.6 226.5,243.6 227.0,244.7 227.6,245.7 228.1,246.8 228.6,247.9 229.2,249.0 229.7,250.1 230.2,251.2 230.8,252.4 231.3,253.6 231.8,254.9 232.4,256.4 232.9,257.8 233.4,259.3 234.0,260.9 234.5,262.5 235.0,264.2 235.6,265.9 236.1,267.6 236.6,269.4 237.2,271.2 237.7,273.1 238.2,274.9 238.8,276.8 239.3,278.7 239.8,280.6 240.4,282.5 240.9,284.3 241.4,286.2 242.0,288.0 242.5,289.8 243.0,291.6 243.6,293.5 244.1,295.3 244.6,297.1 245.2,298.8 245.7,300.6 246.2,302.4 246.8,304.2 247.3,306.0 247.8,307.7 248.4,309.5 248.9,311.3 249.4,313.0 250.0,314.7 250.5,316.4" fill="none" stroke="#141414" stroke-width="1.40" stroke-linejoin="round" stroke-linecap="round"/>
<path d="M26.6,306.2 27.1,304.2 27.7,302.2 28.2,300.2 28.7,298.2 29.3,296.2 29.8,294.3 30.3,292.3 30.9,290.4 31.4,288.4 31.9,286.5 32.5,284.6 33.0,282.7 33.5,280.8 34.1,278.9 34.6,276.9 35.1,275.0 35.7,273.0 36.2,271.1 36.7,269.2 37.3,267.3 37.8,265.4 38.3,263.6 38.9,261.9 39.4,260.2 39.9,258.6 40.5,257.1 41.0,255.6 41.5,254.1 42.1,252.6 42.6,251.2 43.1,249.8 43.7,248.4 44.2,247.1 44.7,245.8 45.3,244.5 45.8,243.4 46.3,242.2 46.9,241.2 47.4,240.2 47.9,239.2 48.5,238.3 49.0,237.5 49.5,236.7 50.1,236.0 50.6,235.3 51.1,234.7 51.7,234.1 52.2,233.5 52.7,233.0 53.3,232.6 53.8,232.1 54.3,231.7 54.9,231.4 55.4,231.0 55.9,230.7 56.5,230.3 57.0,230.0 57.5,229.8 58.1,229.5 58.6,229.2 59.1,229.0 59.7,228.8 60.2,228.6 60.7,228.5 61.3,228.3 61.8,228.2 62.3,228.1 62.9,228.0 63.4,227.9 63.9,227.9 64.4,227.8 65.0,227.8 65.5,227.8 66.0,227.8 66.6,227.8 67.1,227.8 67.6,227.8 68.2,227.8 68.7,227.9 69.2,227.9 69.8,227.9 70.3,228.0 70.8,228.0 71.4,228.1 71.9,228.1 72.4,228.2 73.0,228.3 73.5,228.3 74.0,228.4 74.6,228.5 75.1,228.5 75.6,228.6 76.2,228.7 76.7,228.8 77.2,228.8 77.8,228.9 78.3,229.0 78.8,229.1 79.4,229.1 79.9,229.2 80.4,229.3 81.0,229.4 81.5,229.5 82.0,229.5 82.6,229.6 83.1,229.7 83.6,229.8 84.2,229.9 84.7,230.0 85.2,230.0 85.8,230.1 86.3,230.2 86.8,230.3 87.4,230.4 87.9,230.5 88.4,230.6 89.0,230.6 89.5,230.7 90.0,230.8 90.6,230.9 91.1,231.0 91.6,231.1 92.2,231.1 92.7,231.2 93.2,231.3 93.8,231.4 94.3,231.4 94.8,231.5 95.4,231.6 95.9,231.6 96.4,231.7 97.0,231.7 97.5,231.8 98.0,231.8 98.6,231.9 99.1,231.9 99.6,231.9 100.2,231.9 100.7,231.9 101.2,231.9 101.8,231.9 102.3,231.8 102.8,231.8 103.4,231.7 103.9,231.7 104.4,231.6 105.0,231.5 105.5,231.4 106.0,231.4 106.6,231.3 107.1,231.2 107.6,231.0 108.2,230.9 108.7,230.8 109.2,230.7 109.8,230.6 110.3,230.4 110.8,230.3 111.4,230.2 111.9,230.0 112.4,229.9 113.0,229.7 113.5,229.6 114.0,229.4 114.6,229.3 115.1,229.2 115.6,229.0 116.2,228.9 116.7,228.7 117.2,228.5 117.8,228.4 118.3,228.2 118.8,228.1 119.4,227.9 119.9,227.7 120.4,227.5 121.0,227.4 121.5,227.2 122.0,227.0 122.6,226.8 123.1,226.6 123.6,226.4 124.2,226.1 124.7,225.9 125.2,225.7 125.8,225.4 126.3,225.2 126.8,224.9 127.4,224.7 127.9,224.5 128.4,224.3 129.0,224.1 129.5,223.9 130.0,223.7 130.6,223.6 131.1,223.5 131.6,223.5 132.2,223.5 132.7,223.5 133.2,223.6 133.8,223.7 134.3,223.8 134.8,224.0 135.4,224.2 135.9,224.4 136.4,224.7 137.0,224.9 137.5,225.2 138.0,225.5 138.6,225.7 139.1,226.0 139.6,226.3 140.1,226.6 140.7,226.9 141.2,227.2 141.7,227.5 142.3,227.8 142.8,228.1 143.3,228.3 143.9,228.6 144.4,228.9 144.9,229.1 145.5,229.4 146.0,229.6 146.5,229.9 147.1,230.1 147.6,230.3 148.1,230.6 148.7,230.8 149.2,231.0 149.7,231.2 150.3,231.3 150.8,231.5 151.3,231.7 151.9,231.8 152.4,232.0 152.9,232.1 153.5,232.2 154.0,232.3 154.5,232.5 155.1,232.6 155.6,232.7 156.1,232.7 156.7,232.8 157.2,232.9 157.7,233.0 158.3,233.0 158.8,233.1 159.3,233.2 159.9,233.2 160.4,233.3 160.9,233.3 161.5,233.4 162.0,233.4 162.5,233.4 163.1,233.5 163.6,233.5 164.1,233.5 164.7,233.5 165.2,233.6 165.7,233.6 166.3,233.6 166.8,233.6 167.3,233.6 167.9,233.7 168.4,233.7 168.9,233.7 169.5,233.7 170.0,233.7 170.5,233.7 171.1,233.7 171.6,233.6 172.1,233.6 172.7,233.6 173.2,233.6 173.7,233.5 174.3,233.5 174.8,233.4 175.3,233.4 175.9,233.4 176.4,233.3 176.9,233.3 177.5,233.2 178.0,233.2 178.5,233.1 179.1,233.0 179.6,233.0 180.1,232.9 180.7,232.8 181.2,232.8 181.7,232.7 182.3,232.6 182.8,232.5 183.3,232.5 183.9,232.4 184.4,232.3 184.9,232.2 185.5,232.2 186.0,232.1 186.5,232.0 187.1,231.9 187.6,231.8 188.1,231.8 188.7,231.7 189.2,231.6 189.7,231.5 190.3,231.4 190.8,231.4 191.3,231.3 191.9,231.2 192.4,231.1 192.9,231.1 193.5,231.0 194.0,230.9 194.5,230.8 195.1,230.8 195.6,230.7 196.1,230.7 196.7,230.6 197.2,230.5 197.7,230.5 198.3,230.4 198.8,230.4 199.3,230.3 199.9,230.3 200.4,230.3 200.9,230.3 201.5,230.3 202.0,230.2 202.5,230.2 203.1,230.2 203.6,230.2 204.1,230.3 204.7,230.3 205.2,230.3 205.7,230.4 206.3,230.4 206.8,230.5 207.3,230.6 207.9,230.8 208.4,230.9 208.9,231.1 209.5,231.3 210.0,231.5 210.5,231.8 211.1,232.0 211.6,232.4 212.1,232.7 212.7,233.1 213.2,233.6 213.7,234.0 214.2,234.5 214.8,235.1 215.3,235.7 215.8,236.3 216.4,237.0 216.9,237.7 217.4,238.4 218.0,239.2 218.5,240.0 219.0,240.9 219.6,241.8 220.1,242.8 220.6,243.8 221.2,244.8 221.7,245.8 222.2,246.9 222.8,248.0 223.3,249.1 223.8,250.2 224.4,251.3 224.9,252.5 225.4,253.6 226.0,254.8 226.5,256.0 227.0,257.2 227.6,258.4 228.1,259.6 228.6,260.9 229.2,262.2 229.7,263.6 230.2,265.1 230.8,266.5 231.3,268.1 231.8,269.6 232.4,271.2 232.9,272.9 233.4,274.6 234.0,276.2 234.5,277.9 235.0,279.6 235.6,281.3 236.1,283.0 236.6,284.7 237.2,286.4 237.7,288.0 238.2,289.6 238.8,291.3 239.3,292.9 239.8,294.5 240.4,296.1 240.9,297.7 241.4,299.4 242.0,301.0 242.5,302.5 243.0,304.1 243.6,305.7 244.1,307.3 244.6,308.9 245.2,310.4 245.7,312.0 246.2,313.5 246.8,315.0 247.3,316.4 247.8,317.9 248.4,319.3 248.9,320.7 249.4,322.1 250.0,323.5 250.5,324.9" fill="none" stroke="#d8222e" stroke-width="1.40" stroke-linejoin="round" stroke-linecap="round"/>
<path d="M26.6,301.7 27.1,299.7 27.7,297.7 28.2,295.7 28.7,293.8 29.3,291.8 29.8,289.9 30.3,288.0 30.9,286.1 31.4,284.1 31.9,282.2 32.5,280.3 33.0,278.4 33.5,276.4 34.1,274.5 34.6,272.5 35.1,270.6 35.7,268.7 36.2,266.8 36.7,265.0 37.3,263.2 37.8,261.5 38.3,259.8 38.9,258.2 39.4,256.7 39.9,255.2 40.5,253.7 41.0,252.3 41.5,250.8 42.1,249.4 42.6,248.1 43.1,246.8 43.7,245.5 44.2,244.2 44.7,243.1 45.3,242.0 45.8,240.9 46.3,239.9 46.9,239.0 47.4,238.1 47.9,237.3 48.5,236.5 49.0,235.8 49.5,235.1 50.1,234.5 50.6,233.9 51.1,233.4 51.7,232.9 52.2,232.5 52.7,232.0 53.3,231.6 53.8,231.3 54.3,230.9 54.9,230.6 55.4,230.3 55.9,230.0 56.5,229.7 57.0,229.4 57.5,229.2 58.1,229.0 58.6,228.8 59.1,228.6 59.7,228.4 60.2,228.3 60.7,228.2 61.3,228.1 61.8,228.0 62.3,227.9 62.9,227.9 63.4,227.8 63.9,227.8 64.4,227.8 65.0,227.8 65.5,227.8 66.0,227.8 66.6,227.8 67.1,227.8 67.6,227.9 68.2,227.9 68.7,227.9 69.2,228.0 69.8,228.0 70.3,228.1 70.8,228.1 71.4,228.2 71.9,228.3 72.4,228.3 73.0,228.4 73.5,228.5 74.0,228.5 74.6,228.6 75.1,228.7 75.6,228.7 76.2,228.8 76.7,228.9 77.2,229.0 77.8,229.0 78.3,229.1 78.8,229.2 79.4,229.3 79.9,229.3 80.4,229.4 81.0,229.5 81.5,229.6 82.0,229.7 82.6,229.7 83.1,229.8 83.6,229.9 84.2,230.0 84.7,230.1 85.2,230.2 85.8,230.2 86.3,230.3 86.8,230.4 87.4,230.5 87.9,230.6 88.4,230.7 89.0,230.7 89.5,230.8 90.0,230.9 90.6,231.0 91.1,231.1 91.6,231.1 92.2,231.2 92.7,231.3 93.2,231.4 93.8,231.4 94.3,231.5 94.8,231.6 95.4,231.6 95.9,231.7 96.4,231.7 97.0,231.8 97.5,231.8 98.0,231.8 98.6,231.9 99.1,231.9 99.6,231.9 100.2,231.9 100.7,231.9 101.2,231.9 101.8,231.8 102.3,231.8 102.8,231.8 103.4,231.7 103.9,231.6 104.4,231.6 105.0,231.5 105.5,231.4 106.0,231.3 106.6,231.2 107.1,231.1 107.6,231.0 108.2,230.9 108.7,230.8 109.2,230.7 109.8,230.5 110.3,230.4 110.8,230.3 111.4,230.1 111.9,230.0 112.4,229.9 113.0,229.7 113.5,229.6 114.0,229.4 114.6,229.3 115.1,229.2 115.6,229.0 116.2,228.9 116.7,228.7 117.2,228.5 117.8,228.4 118.3,228.2 118.8,228.1 119.4,227.9 119.9,227.7 120.4,227.5 121.0,227.4 121.5,227.2 122.0,227.0 122.6,226.8 123.1,226.6 123.6,226.4 124.2,226.1 124.7,225.9 125.2,225.7 125.8,225.4 126.3,225.2 126.8,224.9 127.4,224.7 127.9,224.5 128.4,224.3 129.0,224.1 129.5,223.9 130.0,223.7 130.6,223.6 131.1,223.5 131.6,223.5 132.2,223.5 132.7,223.5 133.2,223.6 133.8,223.7 134.3,223.9 134.8,224.0 135.4,224.3 135.9,224.6 136.4,224.9 137.0,225.2 137.5,225.6 138.0,225.9 138.6,226.3 139.1,226.6 139.6,227.0 140.1,227.4 140.7,227.8 141.2,228.1 141.7,228.5 142.3,228.9 142.8,229.2 143.3,229.6 143.9,229.9 144.4,230.3 144.9,230.6 145.5,230.9 146.0,231.3 146.5,231.6 147.1,231.9 147.6,232.2 148.1,232.4 148.7,232.7 149.2,233.0 149.7,233.2 150.3,233.5 150.8,233.7 151.3,233.9 151.9,234.1 152.4,234.3 152.9,234.5 153.5,234.7 154.0,234.9 154.5,235.1 155.1,235.2 155.6,235.2 156.1,235.3 156.7,235.4 157.2,235.5 157.7,235.5 158.3,235.6 158.8,235.6 159.3,235.7 159.9,235.7 160.4,235.8 160.9,235.8 161.5,235.9 162.0,235.9 162.5,235.9 163.1,236.0 163.6,236.0 164.1,236.0 164.7,236.0 165.2,236.0 165.7,236.1 166.3,236.1 166.8,236.1 167.3,236.1 167.9,236.1 168.4,236.1 168.9,236.1 169.5,236.1 170.0,236.1 170.5,236.1 171.1,236.1 171.6,236.1 172.1,236.1 172.7,236.0 173.2,236.0 173.7,236.0 174.3,236.0 174.8,235.9 175.3,235.9 175.9,235.8 176.4,235.8 176.9,235.8 177.5,235.7 178.0,235.7 178.5,235.6 179.1,235.6 179.6,235.5 180.1,235.5 180.7,235.4 181.2,235.3 181.7,235.3 182.3,235.2 182.8,235.1 183.3,235.1 183.9,235.0 184.4,235.0 184.9,234.9 185.5,234.8 186.0,234.8 186.5,234.7 187.1,234.6 187.6,234.6 188.1,234.5 188.7,234.4 189.2,234.4 189.7,234.3 190.3,234.3 190.8,234.2 191.3,234.1 191.9,234.1 192.4,234.0 192.9,234.0 193.5,233.9 194.0,233.9 194.5,233.9 195.1,233.8 195.6,233.8 196.1,233.8 196.7,233.7 197.2,233.7 197.7,233.7 198.3,233.7 198.8,233.6 199.3,233.6 199.9,233.6 200.4,233.6 200.9,233.6 201.5,233.7 202.0,233.7 202.5,233.7 203.1,233.8 203.6,233.9 204.1,234.0 204.7,234.1 205.2,234.3 205.7,234.4 206.3,234.6 206.8,234.9 207.3,235.1 207.9,235.4 208.4,235.8 208.9,236.1 209.5,236.5 210.0,237.0 210.5,237.5 211.1,238.0 211.6,238.6 212.1,239.2 212.7,239.9 213.2,240.6 213.7,241.4 214.2,242.2 214.8,243.0 215.3,243.9 215.8,244.8 216.4,245.8 216.9,246.8 217.4,247.9 218.0,249.0 218.5,250.1 219.0,251.2 219.6,252.3 220.1,253.5 220.6,254.7 221.2,255.9 221.7,257.1 222.2,258.3 222.8,259.6 223.3,260.8 223.8,262.2 224.4,263.5 224.9,264.9 225.4,266.4 226.0,267.9 226.5,269.5 227.0,271.1 227.6,272.8 228.1,274.5 228.6,276.3 229.2,278.1 229.7,279.9 230.2,281.7 230.8,283.5 231.3,285.3 231.8,286.9 232.4,288.4 232.9,289.9 233.4,291.4 234.0,292.8 234.5,294.3 235.0,295.8 235.6,297.2 236.1,298.7 236.6,300.1 237.2,301.6 237.7,303.0 238.2,304.4 238.8,305.8 239.3,307.3 239.8,308.7 240.4,310.1 240.9,311.5 241.4,312.8 242.0,314.2 242.5,315.5 243.0,316.8 243.6,318.1 244.1,319.4 244.6,320.6 245.2,321.9 245.7,323.1 246.2,324.3 246.8,325.5 247.3,326.5 247.8,327.4 248.4,328.1 248.9,328.6 249.4,329.0 250.0,329.2 250.5,329.2" fill="none" stroke="#2020cc" stroke-width="1.40" stroke-linejoin="round" stroke-linecap="round"/>
<rect x="155.4" y="247.4" width="60.6" height="37.4" fill="#fff" stroke="#8a8a8a" stroke-width="0.9"/>
<line x1="159.4" y1="254.10" x2="175.6" y2="254.10" stroke="#141414" stroke-width="1.4" stroke-opacity="0.75"/>
<text x="177.8" y="256.60" class="lg2">Re(<tspan font-style="italic" font-weight="normal">ε</tspan><tspan font-size="4px" dy="1.5" font-weight="normal">r</tspan><tspan dy="-1.5">)=3.00</tspan></text>
<line x1="159.4" y1="266.00" x2="175.6" y2="266.00" stroke="#d8222e" stroke-width="1.4" stroke-opacity="0.75"/>
<text x="177.8" y="268.50" class="lg2">Re(<tspan font-style="italic" font-weight="normal">ε</tspan><tspan font-size="4px" dy="1.5" font-weight="normal">r</tspan><tspan dy="-1.5">)=3.65</tspan></text>
<line x1="159.4" y1="277.70" x2="175.6" y2="277.70" stroke="#2020cc" stroke-width="1.4" stroke-opacity="0.75"/>
<text x="177.8" y="280.20" class="lg2">Re(<tspan font-style="italic" font-weight="normal">ε</tspan><tspan font-size="4px" dy="1.5" font-weight="normal">r</tspan><tspan dy="-1.5">)=4.30</tspan></text>
<rect x="293.00" y="220.00" width="222.40" height="164.00" fill="none" stroke="#5a5a5a" stroke-width="1.2"/>
<line x1="289.50" y1="384.00" x2="293.00" y2="384.00" stroke="#5a5a5a" stroke-width="1"/>
<text transform="translate(288.00,387.00) scale(0.890,1)" class="tl" text-anchor="end">0.0</text>
<line x1="291.00" y1="367.95" x2="293.00" y2="367.95" stroke="#5a5a5a" stroke-width="1"/>
<line x1="289.50" y1="351.90" x2="293.00" y2="351.90" stroke="#5a5a5a" stroke-width="1"/>
<text transform="translate(288.00,354.90) scale(0.890,1)" class="tl" text-anchor="end">0.2</text>
<line x1="291.00" y1="335.85" x2="293.00" y2="335.85" stroke="#5a5a5a" stroke-width="1"/>
<line x1="289.50" y1="319.80" x2="293.00" y2="319.80" stroke="#5a5a5a" stroke-width="1"/>
<text transform="translate(288.00,322.80) scale(0.890,1)" class="tl" text-anchor="end">0.4</text>
<line x1="291.00" y1="303.75" x2="293.00" y2="303.75" stroke="#5a5a5a" stroke-width="1"/>
<line x1="289.50" y1="287.70" x2="293.00" y2="287.70" stroke="#5a5a5a" stroke-width="1"/>
<text transform="translate(288.00,290.70) scale(0.890,1)" class="tl" text-anchor="end">0.6</text>
<line x1="291.00" y1="271.65" x2="293.00" y2="271.65" stroke="#5a5a5a" stroke-width="1"/>
<line x1="289.50" y1="255.60" x2="293.00" y2="255.60" stroke="#5a5a5a" stroke-width="1"/>
<text transform="translate(288.00,258.60) scale(0.890,1)" class="tl" text-anchor="end">0.8</text>
<line x1="291.00" y1="239.55" x2="293.00" y2="239.55" stroke="#5a5a5a" stroke-width="1"/>
<line x1="289.50" y1="223.50" x2="293.00" y2="223.50" stroke="#5a5a5a" stroke-width="1"/>
<text transform="translate(288.00,226.50) scale(0.890,1)" class="tl" text-anchor="end">1.0</text>
<line x1="293.00" y1="384.00" x2="293.00" y2="387.20" stroke="#5a5a5a" stroke-width="1"/>
<text transform="translate(293.00,394.90) scale(0.890,1)" class="tl" text-anchor="middle">2</text>
<line x1="308.89" y1="384.00" x2="308.89" y2="385.80" stroke="#5a5a5a" stroke-width="1"/>
<line x1="324.77" y1="384.00" x2="324.77" y2="387.20" stroke="#5a5a5a" stroke-width="1"/>
<text transform="translate(324.77,394.90) scale(0.890,1)" class="tl" text-anchor="middle">4</text>
<line x1="340.66" y1="384.00" x2="340.66" y2="385.80" stroke="#5a5a5a" stroke-width="1"/>
<line x1="356.54" y1="384.00" x2="356.54" y2="387.20" stroke="#5a5a5a" stroke-width="1"/>
<text transform="translate(356.54,394.90) scale(0.890,1)" class="tl" text-anchor="middle">6</text>
<line x1="372.43" y1="384.00" x2="372.43" y2="385.80" stroke="#5a5a5a" stroke-width="1"/>
<line x1="388.31" y1="384.00" x2="388.31" y2="387.20" stroke="#5a5a5a" stroke-width="1"/>
<text transform="translate(388.31,394.90) scale(0.890,1)" class="tl" text-anchor="middle">8</text>
<line x1="404.20" y1="384.00" x2="404.20" y2="385.80" stroke="#5a5a5a" stroke-width="1"/>
<line x1="420.09" y1="384.00" x2="420.09" y2="387.20" stroke="#5a5a5a" stroke-width="1"/>
<text transform="translate(420.09,394.90) scale(0.890,1)" class="tl" text-anchor="middle">10</text>
<line x1="435.97" y1="384.00" x2="435.97" y2="385.80" stroke="#5a5a5a" stroke-width="1"/>
<line x1="451.86" y1="384.00" x2="451.86" y2="387.20" stroke="#5a5a5a" stroke-width="1"/>
<text transform="translate(451.86,394.90) scale(0.890,1)" class="tl" text-anchor="middle">12</text>
<line x1="467.74" y1="384.00" x2="467.74" y2="385.80" stroke="#5a5a5a" stroke-width="1"/>
<line x1="483.63" y1="384.00" x2="483.63" y2="387.20" stroke="#5a5a5a" stroke-width="1"/>
<text transform="translate(483.63,394.90) scale(0.890,1)" class="tl" text-anchor="middle">14</text>
<line x1="499.51" y1="384.00" x2="499.51" y2="385.80" stroke="#5a5a5a" stroke-width="1"/>
<line x1="515.40" y1="384.00" x2="515.40" y2="387.20" stroke="#5a5a5a" stroke-width="1"/>
<text transform="translate(515.40,394.90) scale(0.890,1)" class="tl" text-anchor="middle">16</text>
<text transform="translate(404.20,409.60) scale(0.900,1)" class="at" text-anchor="middle">Frequency(GHz)</text>
<text transform="translate(272.60,307.30) rotate(-90) scale(1,0.9)" class="ab" text-anchor="middle">Absorption</text>
<text x="399.00" y="424.50" class="pl" text-anchor="middle">(d)</text>
<path d="M293.0,305.8 293.5,303.9 294.1,301.9 294.6,299.9 295.1,297.9 295.6,296.0 296.2,294.0 296.7,292.1 297.2,290.1 297.8,288.2 298.3,286.3 298.8,284.4 299.4,282.5 299.9,280.6 300.4,278.7 300.9,276.8 301.5,274.8 302.0,272.9 302.5,271.0 303.1,269.1 303.6,267.2 304.1,265.3 304.6,263.6 305.2,261.9 305.7,260.2 306.2,258.6 306.8,257.1 307.3,255.6 307.8,254.1 308.4,252.6 308.9,251.2 309.4,249.8 309.9,248.5 310.5,247.1 311.0,245.8 311.5,244.6 312.1,243.4 312.6,242.3 313.1,241.2 313.7,240.2 314.2,239.3 314.7,238.4 315.2,237.6 315.8,236.8 316.3,236.1 316.8,235.4 317.4,234.8 317.9,234.2 318.4,233.7 318.9,233.2 319.5,232.7 320.0,232.3 320.5,231.9 321.1,231.5 321.6,231.1 322.1,230.8 322.7,230.5 323.2,230.2 323.7,229.9 324.2,229.6 324.8,229.4 325.3,229.2 325.8,229.0 326.4,228.8 326.9,228.6 327.4,228.5 327.9,228.4 328.5,228.3 329.0,228.2 329.5,228.1 330.1,228.0 330.6,228.0 331.1,228.0 331.7,227.9 332.2,227.9 332.7,227.9 333.2,228.0 333.8,228.0 334.3,228.0 334.8,228.0 335.4,228.1 335.9,228.1 336.4,228.1 337.0,228.2 337.5,228.3 338.0,228.3 338.5,228.4 339.1,228.4 339.6,228.5 340.1,228.6 340.7,228.6 341.2,228.7 341.7,228.8 342.2,228.8 342.8,228.9 343.3,229.0 343.8,229.1 344.4,229.1 344.9,229.2 345.4,229.3 346.0,229.4 346.5,229.5 347.0,229.5 347.5,229.6 348.1,229.7 348.6,229.8 349.1,229.9 349.7,229.9 350.2,230.0 350.7,230.1 351.2,230.2 351.8,230.3 352.3,230.4 352.8,230.5 353.4,230.5 353.9,230.6 354.4,230.7 355.0,230.8 355.5,230.9 356.0,231.0 356.5,231.0 357.1,231.1 357.6,231.2 358.1,231.3 358.7,231.4 359.2,231.4 359.7,231.5 360.2,231.6 360.8,231.7 361.3,231.7 361.8,231.8 362.4,231.8 362.9,231.9 363.4,231.9 364.0,232.0 364.5,232.0 365.0,232.0 365.5,232.0 366.1,232.0 366.6,232.0 367.1,232.0 367.7,232.0 368.2,232.0 368.7,231.9 369.3,231.9 369.8,231.8 370.3,231.8 370.8,231.7 371.4,231.6 371.9,231.5 372.4,231.4 373.0,231.3 373.5,231.2 374.0,231.1 374.5,231.0 375.1,230.8 375.6,230.7 376.1,230.6 376.7,230.4 377.2,230.3 377.7,230.2 378.3,230.0 378.8,229.9 379.3,229.7 379.8,229.6 380.4,229.5 380.9,229.3 381.4,229.2 382.0,229.0 382.5,228.9 383.0,228.7 383.5,228.6 384.1,228.4 384.6,228.2 385.1,228.1 385.7,227.9 386.2,227.7 386.7,227.5 387.3,227.3 387.8,227.2 388.3,227.0 388.8,226.8 389.4,226.5 389.9,226.3 390.4,226.1 391.0,225.9 391.5,225.6 392.0,225.4 392.6,225.1 393.1,224.9 393.6,224.7 394.1,224.4 394.7,224.2 395.2,224.1 395.7,223.9 396.3,223.8 396.8,223.7 397.3,223.7 397.8,223.7 398.4,223.7 398.9,223.8 399.4,223.9 400.0,224.0 400.5,224.2 401.0,224.4 401.6,224.6 402.1,224.9 402.6,225.1 403.1,225.4 403.7,225.6 404.2,225.9 404.7,226.2 405.3,226.5 405.8,226.8 406.3,227.1 406.8,227.4 407.4,227.7 407.9,227.9 408.4,228.2 409.0,228.5 409.5,228.8 410.0,229.0 410.6,229.3 411.1,229.6 411.6,229.8 412.1,230.0 412.7,230.3 413.2,230.5 413.7,230.7 414.3,230.9 414.8,231.1 415.3,231.3 415.8,231.5 416.4,231.7 416.9,231.8 417.4,232.0 418.0,232.1 418.5,232.2 419.0,232.4 419.6,232.5 420.1,232.6 420.6,232.7 421.1,232.8 421.7,232.9 422.2,233.0 422.7,233.0 423.3,233.1 423.8,233.2 424.3,233.2 424.9,233.3 425.4,233.4 425.9,233.4 426.4,233.4 427.0,233.5 427.5,233.5 428.0,233.6 428.6,233.6 429.1,233.6 429.6,233.7 430.1,233.7 430.7,233.7 431.2,233.7 431.7,233.7 432.3,233.8 432.8,233.8 433.3,233.8 433.9,233.8 434.4,233.8 434.9,233.8 435.4,233.8 436.0,233.8 436.5,233.8 437.0,233.8 437.6,233.8 438.1,233.8 438.6,233.8 439.1,233.8 439.7,233.7 440.2,233.7 440.7,233.7 441.3,233.7 441.8,233.6 442.3,233.6 442.9,233.6 443.4,233.5 443.9,233.5 444.4,233.5 445.0,233.4 445.5,233.4 446.0,233.3 446.6,233.3 447.1,233.2 447.6,233.2 448.2,233.1 448.7,233.0 449.2,233.0 449.7,232.9 450.3,232.9 450.8,232.8 451.3,232.7 451.9,232.7 452.4,232.6 452.9,232.6 453.4,232.5 454.0,232.4 454.5,232.4 455.0,232.3 455.6,232.2 456.1,232.2 456.6,232.1 457.2,232.1 457.7,232.0 458.2,232.0 458.7,231.9 459.3,231.9 459.8,231.8 460.3,231.8 460.9,231.7 461.4,231.7 461.9,231.6 462.4,231.6 463.0,231.5 463.5,231.5 464.0,231.5 464.6,231.5 465.1,231.4 465.6,231.4 466.2,231.4 466.7,231.4 467.2,231.4 467.7,231.4 468.3,231.4 468.8,231.4 469.3,231.4 469.9,231.4 470.4,231.4 470.9,231.5 471.4,231.6 472.0,231.6 472.5,231.7 473.0,231.9 473.6,232.0 474.1,232.2 474.6,232.4 475.2,232.6 475.7,232.9 476.2,233.2 476.7,233.5 477.3,233.8 477.8,234.2 478.3,234.6 478.9,235.1 479.4,235.6 479.9,236.2 480.5,236.7 481.0,237.4 481.5,238.0 482.0,238.7 482.6,239.5 483.1,240.3 483.6,241.1 484.2,242.0 484.7,242.9 485.2,243.8 485.7,244.8 486.3,245.8 486.8,246.8 487.3,247.9 487.9,249.0 488.4,250.1 488.9,251.2 489.5,252.3 490.0,253.4 490.5,254.6 491.0,255.8 491.6,257.0 492.1,258.2 492.6,259.5 493.2,260.8 493.7,262.2 494.2,263.5 494.7,265.0 495.3,266.5 495.8,268.0 496.3,269.6 496.9,271.3 497.4,273.0 497.9,274.7 498.5,276.4 499.0,278.1 499.5,279.9 500.0,281.7 500.6,283.4 501.1,285.2 501.6,286.9 502.2,288.7 502.7,290.4 503.2,292.1 503.8,293.8 504.3,295.5 504.8,297.2 505.3,298.9 505.9,300.5 506.4,302.2 506.9,303.9 507.5,305.6 508.0,307.2 508.5,308.9 509.0,310.5 509.6,312.1 510.1,313.8 510.6,315.4 511.2,317.0 511.7,318.5 512.2,320.0 512.8,321.6 513.3,323.1 513.8,324.5 514.3,326.0 514.9,327.5 515.4,328.9" fill="none" stroke="#141414" stroke-width="1.80" stroke-linejoin="round" stroke-linecap="round"/>
<path d="M293.0,305.8 293.5,303.9 294.1,301.9 294.6,299.9 295.1,297.9 295.6,296.0 296.2,294.0 296.7,292.1 297.2,290.1 297.8,288.2 298.3,286.3 298.8,284.4 299.4,282.5 299.9,280.6 300.4,278.7 300.9,276.8 301.5,274.8 302.0,272.9 302.5,271.0 303.1,269.1 303.6,267.2 304.1,265.3 304.6,263.6 305.2,261.9 305.7,260.2 306.2,258.6 306.8,257.1 307.3,255.6 307.8,254.1 308.4,252.6 308.9,251.2 309.4,249.8 309.9,248.5 310.5,247.1 311.0,245.8 311.5,244.6 312.1,243.4 312.6,242.3 313.1,241.2 313.7,240.2 314.2,239.3 314.7,238.4 315.2,237.6 315.8,236.8 316.3,236.1 316.8,235.4 317.4,234.8 317.9,234.2 318.4,233.7 318.9,233.2 319.5,232.7 320.0,232.3 320.5,231.9 321.1,231.5 321.6,231.1 322.1,230.8 322.7,230.5 323.2,230.2 323.7,229.9 324.2,229.6 324.8,229.4 325.3,229.2 325.8,229.0 326.4,228.8 326.9,228.6 327.4,228.5 327.9,228.4 328.5,228.3 329.0,228.2 329.5,228.1 330.1,228.0 330.6,228.0 331.1,228.0 331.7,227.9 332.2,227.9 332.7,227.9 333.2,228.0 333.8,228.0 334.3,228.0 334.8,228.0 335.4,228.1 335.9,228.1 336.4,228.1 337.0,228.2 337.5,228.3 338.0,228.3 338.5,228.4 339.1,228.4 339.6,228.5 340.1,228.6 340.7,228.6 341.2,228.7 341.7,228.8 342.2,228.8 342.8,228.9 343.3,229.0 343.8,229.1 344.4,229.1 344.9,229.2 345.4,229.3 346.0,229.4 346.5,229.5 347.0,229.5 347.5,229.6 348.1,229.7 348.6,229.8 349.1,229.9 349.7,229.9 350.2,230.0 350.7,230.1 351.2,230.2 351.8,230.3 352.3,230.4 352.8,230.5 353.4,230.5 353.9,230.6 354.4,230.7 355.0,230.8 355.5,230.9 356.0,231.0 356.5,231.0 357.1,231.1 357.6,231.2 358.1,231.3 358.7,231.4 359.2,231.4 359.7,231.5 360.2,231.6 360.8,231.7 361.3,231.7 361.8,231.8 362.4,231.8 362.9,231.9 363.4,231.9 364.0,232.0 364.5,232.0 365.0,232.0 365.5,232.0 366.1,232.0 366.6,232.0 367.1,232.0 367.7,232.0 368.2,232.0 368.7,231.9 369.3,231.9 369.8,231.8 370.3,231.8 370.8,231.7 371.4,231.6 371.9,231.5 372.4,231.4 373.0,231.3 373.5,231.2 374.0,231.1 374.5,231.0 375.1,230.8 375.6,230.7 376.1,230.6 376.7,230.4 377.2,230.3 377.7,230.2 378.3,230.0 378.8,229.9 379.3,229.7 379.8,229.6 380.4,229.5 380.9,229.3 381.4,229.2 382.0,229.0 382.5,228.9 383.0,228.7 383.5,228.6 384.1,228.4 384.6,228.2 385.1,228.1 385.7,227.9 386.2,227.7 386.7,227.5 387.3,227.3 387.8,227.2 388.3,227.0 388.8,226.8 389.4,226.5 389.9,226.3 390.4,226.1 391.0,225.9 391.5,225.6 392.0,225.4 392.6,225.1 393.1,224.9 393.6,224.7 394.1,224.4 394.7,224.2 395.2,224.1 395.7,223.9 396.3,223.8 396.8,223.7 397.3,223.7 397.8,223.7 398.4,223.7 398.9,223.8 399.4,223.9 400.0,224.0 400.5,224.2 401.0,224.4 401.6,224.6 402.1,224.9 402.6,225.1 403.1,225.4 403.7,225.6 404.2,225.9 404.7,226.2 405.3,226.5 405.8,226.8 406.3,227.1 406.8,227.4 407.4,227.7 407.9,227.9 408.4,228.2 409.0,228.5 409.5,228.8 410.0,229.0 410.6,229.3 411.1,229.6 411.6,229.8 412.1,230.0 412.7,230.3 413.2,230.5 413.7,230.7 414.3,230.9 414.8,231.1 415.3,231.3 415.8,231.5 416.4,231.7 416.9,231.8 417.4,232.0 418.0,232.1 418.5,232.2 419.0,232.4 419.6,232.5 420.1,232.6 420.6,232.7 421.1,232.8 421.7,232.9 422.2,233.0 422.7,233.0 423.3,233.1 423.8,233.2 424.3,233.2 424.9,233.3 425.4,233.4 425.9,233.4 426.4,233.4 427.0,233.5 427.5,233.5 428.0,233.6 428.6,233.6 429.1,233.6 429.6,233.7 430.1,233.7 430.7,233.7 431.2,233.7 431.7,233.7 432.3,233.8 432.8,233.8 433.3,233.8 433.9,233.8 434.4,233.8 434.9,233.8 435.4,233.8 436.0,233.8 436.5,233.8 437.0,233.8 437.6,233.8 438.1,233.8 438.6,233.8 439.1,233.8 439.7,233.7 440.2,233.7 440.7,233.7 441.3,233.7 441.8,233.6 442.3,233.6 442.9,233.6 443.4,233.5 443.9,233.5 444.4,233.5 445.0,233.4 445.5,233.4 446.0,233.3 446.6,233.3 447.1,233.2 447.6,233.2 448.2,233.1 448.7,233.0 449.2,233.0 449.7,232.9 450.3,232.9 450.8,232.8 451.3,232.7 451.9,232.7 452.4,232.6 452.9,232.6 453.4,232.5 454.0,232.4 454.5,232.4 455.0,232.3 455.6,232.2 456.1,232.2 456.6,232.1 457.2,232.1 457.7,232.0 458.2,232.0 458.7,231.9 459.3,231.9 459.8,231.8 460.3,231.8 460.9,231.7 461.4,231.7 461.9,231.6 462.4,231.6 463.0,231.5 463.5,231.5 464.0,231.5 464.6,231.5 465.1,231.4 465.6,231.4 466.2,231.4 466.7,231.4 467.2,231.4 467.7,231.4 468.3,231.4 468.8,231.4 469.3,231.4 469.9,231.4 470.4,231.4 470.9,231.5 471.4,231.6 472.0,231.6 472.5,231.7 473.0,231.9 473.6,232.0 474.1,232.2 474.6,232.4 475.2,232.6 475.7,232.9 476.2,233.2 476.7,233.5 477.3,233.8 477.8,234.2 478.3,234.6 478.9,235.1 479.4,235.6 479.9,236.2 480.5,236.7 481.0,237.4 481.5,238.0 482.0,238.7 482.6,239.5 483.1,240.3 483.6,241.1 484.2,242.0 484.7,242.9 485.2,243.8 485.7,244.8 486.3,245.8 486.8,246.8 487.3,247.9 487.9,249.0 488.4,250.1 488.9,251.2 489.5,252.3 490.0,253.4 490.5,254.6 491.0,255.8 491.6,257.0 492.1,258.2 492.6,259.5 493.2,260.8 493.7,262.1 494.2,263.5 494.7,265.0 495.3,266.4 495.8,268.0 496.3,269.6 496.9,271.2 497.4,272.9 497.9,274.6 498.5,276.3 499.0,278.0 499.5,279.8 500.0,281.6 500.6,283.3 501.1,285.1 501.6,286.8 502.2,288.5 502.7,290.2 503.2,291.9 503.8,293.6 504.3,295.3 504.8,297.0 505.3,298.7 505.9,300.4 506.4,302.0 506.9,303.7 507.5,305.3 508.0,307.0 508.5,308.6 509.0,310.3 509.6,311.9 510.1,313.5 510.6,315.1 511.2,316.7 511.7,318.2 512.2,319.8 512.8,321.3 513.3,322.8 513.8,324.2 514.3,325.7 514.9,327.2 515.4,328.6" fill="none" stroke="#d8222e" stroke-width="1.80" stroke-linejoin="round" stroke-linecap="round"/>
<path d="M293.0,305.8 293.5,303.9 294.1,301.9 294.6,299.9 295.1,297.9 295.6,296.0 296.2,294.0 296.7,292.1 297.2,290.1 297.8,288.2 298.3,286.3 298.8,284.4 299.4,282.5 299.9,280.6 300.4,278.7 300.9,276.8 301.5,274.8 302.0,272.9 302.5,271.0 303.1,269.1 303.6,267.2 304.1,265.3 304.6,263.6 305.2,261.9 305.7,260.2 306.2,258.6 306.8,257.1 307.3,255.6 307.8,254.1 308.4,252.6 308.9,251.2 309.4,249.8 309.9,248.5 310.5,247.1 311.0,245.8 311.5,244.6 312.1,243.4 312.6,242.3 313.1,241.2 313.7,240.2 314.2,239.3 314.7,238.4 315.2,237.6 315.8,236.8 316.3,236.1 316.8,235.4 317.4,234.8 317.9,234.2 318.4,233.7 318.9,233.2 319.5,232.7 320.0,232.3 320.5,231.9 321.1,231.5 321.6,231.1 322.1,230.8 322.7,230.5 323.2,230.2 323.7,229.9 324.2,229.6 324.8,229.4 325.3,229.2 325.8,229.0 326.4,228.8 326.9,228.6 327.4,228.5 327.9,228.4 328.5,228.3 329.0,228.2 329.5,228.1 330.1,228.0 330.6,228.0 331.1,228.0 331.7,227.9 332.2,227.9 332.7,227.9 333.2,228.0 333.8,228.0 334.3,228.0 334.8,228.0 335.4,228.1 335.9,228.1 336.4,228.1 337.0,228.2 337.5,228.3 338.0,228.3 338.5,228.4 339.1,228.4 339.6,228.5 340.1,228.6 340.7,228.6 341.2,228.7 341.7,228.8 342.2,228.8 342.8,228.9 343.3,229.0 343.8,229.1 344.4,229.1 344.9,229.2 345.4,229.3 346.0,229.4 346.5,229.5 347.0,229.5 347.5,229.6 348.1,229.7 348.6,229.8 349.1,229.9 349.7,229.9 350.2,230.0 350.7,230.1 351.2,230.2 351.8,230.3 352.3,230.4 352.8,230.5 353.4,230.5 353.9,230.6 354.4,230.7 355.0,230.8 355.5,230.9 356.0,231.0 356.5,231.0 357.1,231.1 357.6,231.2 358.1,231.3 358.7,231.4 359.2,231.4 359.7,231.5 360.2,231.6 360.8,231.7 361.3,231.7 361.8,231.8 362.4,231.8 362.9,231.9 363.4,231.9 364.0,232.0 364.5,232.0 365.0,232.0 365.5,232.0 366.1,232.0 366.6,232.0 367.1,232.0 367.7,232.0 368.2,232.0 368.7,231.9 369.3,231.9 369.8,231.8 370.3,231.8 370.8,231.7 371.4,231.6 371.9,231.5 372.4,231.4 373.0,231.3 373.5,231.2 374.0,231.1 374.5,231.0 375.1,230.8 375.6,230.7 376.1,230.6 376.7,230.4 377.2,230.3 377.7,230.2 378.3,230.0 378.8,229.9 379.3,229.7 379.8,229.6 380.4,229.5 380.9,229.3 381.4,229.2 382.0,229.0 382.5,228.9 383.0,228.7 383.5,228.6 384.1,228.4 384.6,228.2 385.1,228.1 385.7,227.9 386.2,227.7 386.7,227.5 387.3,227.3 387.8,227.2 388.3,227.0 388.8,226.8 389.4,226.5 389.9,226.3 390.4,226.1 391.0,225.9 391.5,225.6 392.0,225.4 392.6,225.1 393.1,224.9 393.6,224.7 394.1,224.4 394.7,224.2 395.2,224.1 395.7,223.9 396.3,223.8 396.8,223.7 397.3,223.7 397.8,223.7 398.4,223.7 398.9,223.8 399.4,223.9 400.0,224.0 400.5,224.2 401.0,224.4 401.6,224.6 402.1,224.9 402.6,225.1 403.1,225.4 403.7,225.6 404.2,225.9 404.7,226.2 405.3,226.5 405.8,226.8 406.3,227.1 406.8,227.4 407.4,227.7 407.9,227.9 408.4,228.2 409.0,228.5 409.5,228.8 410.0,229.0 410.6,229.3 411.1,229.6 411.6,229.8 412.1,230.0 412.7,230.3 413.2,230.5 413.7,230.7 414.3,230.9 414.8,231.1 415.3,231.3 415.8,231.5 416.4,231.7 416.9,231.8 417.4,232.0 418.0,232.1 418.5,232.2 419.0,232.4 419.6,232.5 420.1,232.6 420.6,232.7 421.1,232.8 421.7,232.9 422.2,233.0 422.7,233.0 423.3,233.1 423.8,233.2 424.3,233.2 424.9,233.3 425.4,233.4 425.9,233.4 426.4,233.4 427.0,233.5 427.5,233.5 428.0,233.6 428.6,233.6 429.1,233.6 429.6,233.7 430.1,233.7 430.7,233.7 431.2,233.7 431.7,233.7 432.3,233.8 432.8,233.8 433.3,233.8 433.9,233.8 434.4,233.8 434.9,233.8 435.4,233.8 436.0,233.8 436.5,233.8 437.0,233.8 437.6,233.8 438.1,233.8 438.6,233.8 439.1,233.8 439.7,233.7 440.2,233.7 440.7,233.7 441.3,233.7 441.8,233.6 442.3,233.6 442.9,233.6 443.4,233.5 443.9,233.5 444.4,233.5 445.0,233.4 445.5,233.4 446.0,233.3 446.6,233.3 447.1,233.2 447.6,233.2 448.2,233.1 448.7,233.0 449.2,233.0 449.7,232.9 450.3,232.9 450.8,232.8 451.3,232.7 451.9,232.7 452.4,232.6 452.9,232.6 453.4,232.5 454.0,232.4 454.5,232.4 455.0,232.3 455.6,232.2 456.1,232.2 456.6,232.1 457.2,232.1 457.7,232.0 458.2,232.0 458.7,231.9 459.3,231.9 459.8,231.8 460.3,231.8 460.9,231.7 461.4,231.7 461.9,231.6 462.4,231.6 463.0,231.5 463.5,231.5 464.0,231.5 464.6,231.5 465.1,231.4 465.6,231.4 466.2,231.4 466.7,231.4 467.2,231.4 467.7,231.4 468.3,231.4 468.8,231.4 469.3,231.4 469.9,231.4 470.4,231.4 470.9,231.5 471.4,231.6 472.0,231.6 472.5,231.7 473.0,231.9 473.6,232.0 474.1,232.2 474.6,232.4 475.2,232.6 475.7,232.9 476.2,233.2 476.7,233.5 477.3,233.8 477.8,234.2 478.3,234.6 478.9,235.1 479.4,235.6 479.9,236.2 480.5,236.7 481.0,237.4 481.5,238.0 482.0,238.7 482.6,239.5 483.1,240.3 483.6,241.1 484.2,242.0 484.7,242.9 485.2,243.8 485.7,244.8 486.3,245.8 486.8,246.8 487.3,247.9 487.9,249.0 488.4,250.1 488.9,251.2 489.5,252.3 490.0,253.4 490.5,254.6 491.0,255.8 491.6,257.0 492.1,258.2 492.6,259.4 493.2,260.7 493.7,262.1 494.2,263.4 494.7,264.9 495.3,266.3 495.8,267.9 496.3,269.5 496.9,271.1 497.4,272.7 497.9,274.4 498.5,276.1 499.0,277.9 499.5,279.6 500.0,281.3 500.6,283.1 501.1,284.8 501.6,286.5 502.2,288.2 502.7,289.9 503.2,291.6 503.8,293.3 504.3,295.0 504.8,296.7 505.3,298.3 505.9,300.0 506.4,301.6 506.9,303.3 507.5,304.9 508.0,306.6 508.5,308.2 509.0,309.8 509.6,311.4 510.1,313.0 510.6,314.6 511.2,316.2 511.7,317.7 512.2,319.2 512.8,320.7 513.3,322.2 513.8,323.6 514.3,325.1 514.9,326.5 515.4,328.0" fill="none" stroke="#2020cc" stroke-width="1.85" stroke-linejoin="round" stroke-linecap="round"/>
<rect x="423.3" y="239.3" width="55.1" height="31.3" fill="#fff" stroke="#8a8a8a" stroke-width="0.9"/>
<line x1="427.2" y1="246.10" x2="445.6" y2="246.10" stroke="#141414" stroke-width="1.5"/>
<text x="447.6" y="248.50" class="lg"><tspan>tan</tspan><tspan class="lg3">δ=0.005</tspan></text>
<line x1="427.2" y1="256.30" x2="445.6" y2="256.30" stroke="#d8222e" stroke-width="1.5"/>
<text x="447.6" y="258.70" class="lg"><tspan>tan</tspan><tspan class="lg3">δ=0.015</tspan></text>
<line x1="427.2" y1="266.40" x2="445.6" y2="266.40" stroke="#2020cc" stroke-width="1.5"/>
<text x="447.6" y="268.80" class="lg"><tspan>tan</tspan><tspan class="lg3">δ=0.025</tspan></text>
</svg>
</body></html>
